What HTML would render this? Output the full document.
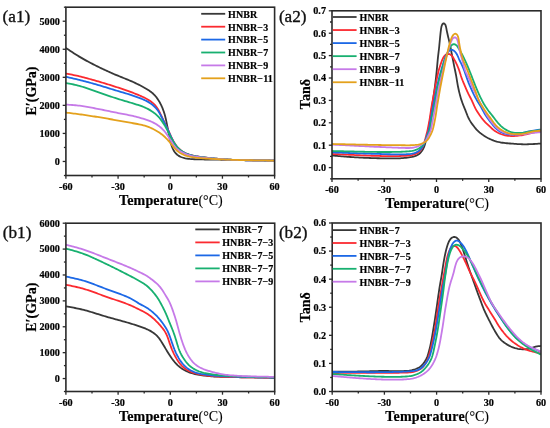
<!DOCTYPE html>
<html><head><meta charset="utf-8"><title>HNBR DMA curves</title>
<style>
html,body{margin:0;padding:0;background:#fff;}
body{width:550px;height:428px;overflow:hidden;}
svg{display:block;}
.tk{font-family:"Liberation Serif",serif;font-weight:bold;font-size:10.2px;fill:#000;stroke:#000;stroke-width:0.2px;}
.lg{font-family:"Liberation Serif",serif;font-weight:bold;font-size:10px;letter-spacing:0.12px;fill:#000;stroke:#000;stroke-width:0.2px;}
.ti{font-family:"Liberation Serif",serif;font-weight:bold;font-size:14px;fill:#000;stroke:#000;stroke-width:0.2px;}
.tr{font-weight:normal;stroke-width:0.1px;}
.pl{font-family:"Liberation Serif",serif;font-size:17.2px;fill:#111;stroke:#111;stroke-width:0.35px;}
</style></head>
<body>
<svg width="550" height="428" viewBox="0 0 550 428">
<defs>
<clipPath id="ca1"><rect x="65.9" y="7.2" width="208.70" height="168.30"/></clipPath>
<clipPath id="ca2"><rect x="332.0" y="10.8" width="209.00" height="168.00"/></clipPath>
<clipPath id="cb1"><rect x="65.9" y="223.2" width="208.80" height="168.30"/></clipPath>
<clipPath id="cb2"><rect x="332.2" y="223.0" width="208.80" height="168.50"/></clipPath>
</defs>
<rect width="550" height="428" fill="#fff"/>
<path d="M66.20,48.20 L67.46,49.03 L68.71,49.85 L69.97,50.68 L71.23,51.51 L72.49,52.33 L73.75,53.15 L75.01,53.97 L76.28,54.77 L77.56,55.57 L78.84,56.36 L80.13,57.13 L81.43,57.89 L82.73,58.64 L84.04,59.38 L85.36,60.12 L86.68,60.84 L88.00,61.56 L89.33,62.26 L90.66,62.96 L91.99,63.66 L93.33,64.34 L94.67,65.02 L96.02,65.70 L97.37,66.37 L98.72,67.04 L100.07,67.70 L101.42,68.35 L102.78,69.00 L104.14,69.65 L105.50,70.28 L106.87,70.91 L108.24,71.54 L109.61,72.15 L110.99,72.76 L112.36,73.36 L113.75,73.96 L115.13,74.55 L116.52,75.12 L117.91,75.70 L119.31,76.26 L120.70,76.83 L122.10,77.39 L123.49,77.96 L124.88,78.53 L126.27,79.10 L127.67,79.67 L129.05,80.25 L130.44,80.84 L131.82,81.44 L133.19,82.05 L134.56,82.68 L135.92,83.32 L137.28,83.97 L138.63,84.64 L139.97,85.32 L141.30,86.02 L142.63,86.73 L143.94,87.46 L145.25,88.20 L146.54,88.97 L147.82,89.75 L149.09,90.57 L150.32,91.42 L151.52,92.32 L152.67,93.27 L153.76,94.29 L154.80,95.37 L155.78,96.50 L156.71,97.67 L157.59,98.89 L158.42,100.14 L159.21,101.42 L159.95,102.72 L160.65,104.05 L161.31,105.40 L161.93,106.77 L162.51,108.15 L163.05,109.56 L163.56,110.97 L164.04,112.40 L164.48,113.83 L164.90,115.28 L165.28,116.73 L165.64,118.19 L165.98,119.66 L166.30,121.13 L166.61,122.60 L166.90,124.07 L167.18,125.55 L167.46,127.03 L167.74,128.51 L168.03,129.99 L168.31,131.46 L168.61,132.94 L168.90,134.41 L169.20,135.89 L169.51,137.36 L169.83,138.83 L170.16,140.30 L170.50,141.76 L170.87,143.22 L171.28,144.66 L171.74,146.09 L172.27,147.49 L172.87,148.86 L173.55,150.19 L174.32,151.46 L175.19,152.66 L176.16,153.77 L177.24,154.77 L178.42,155.64 L179.69,156.38 L181.03,157.00 L182.43,157.50 L183.86,157.92 L185.32,158.26 L186.79,158.54 L188.28,158.76 L189.77,158.94 L191.26,159.07 L192.76,159.18 L194.27,159.25 L195.77,159.31 L197.27,159.35 L198.78,159.38 L200.28,159.41 L201.79,159.43 L203.29,159.46 L204.79,159.49 L206.30,159.51 L207.80,159.54 L209.31,159.56 L210.81,159.58 L212.32,159.60 L213.82,159.63 L215.33,159.65 L216.83,159.67 L218.33,159.69 L219.84,159.72 L221.34,159.74 L222.85,159.76 L224.35,159.78 L225.86,159.81 L227.36,159.83 L228.87,159.85 L230.37,159.87 L231.87,159.90 L233.38,159.92 L234.88,159.95 L236.39,159.97 L237.89,160.00 L239.40,160.02 L240.90,160.05 L242.41,160.07 L243.91,160.10 L245.42,160.12 L246.92,160.15 L248.42,160.17 L249.93,160.20 L251.43,160.22 L252.94,160.25 L254.44,160.27 L255.95,160.30 L257.45,160.32 L258.96,160.35 L260.46,160.37 L261.96,160.40 L263.47,160.42 L264.97,160.45 L266.48,160.47 L267.98,160.50 L269.49,160.52 L270.99,160.55 L272.50,160.57 L274.00,160.60" fill="none" stroke="#383838" stroke-width="1.8" stroke-linejoin="round" stroke-linecap="round" clip-path="url(#ca1)"/>
<path d="M66.20,73.60 L67.68,73.88 L69.16,74.17 L70.63,74.45 L72.11,74.74 L73.59,75.03 L75.06,75.34 L76.53,75.66 L78.00,75.99 L79.47,76.33 L80.93,76.69 L82.39,77.05 L83.85,77.43 L85.30,77.81 L86.75,78.20 L88.21,78.60 L89.66,79.00 L91.11,79.40 L92.56,79.81 L94.01,80.22 L95.45,80.63 L96.90,81.05 L98.35,81.47 L99.79,81.89 L101.23,82.31 L102.68,82.74 L104.12,83.17 L105.56,83.61 L107.00,84.04 L108.44,84.49 L109.88,84.94 L111.31,85.39 L112.75,85.84 L114.18,86.31 L115.61,86.77 L117.04,87.24 L118.47,87.72 L119.90,88.19 L121.32,88.68 L122.75,89.16 L124.17,89.65 L125.59,90.15 L127.01,90.65 L128.43,91.15 L129.84,91.66 L131.26,92.18 L132.67,92.71 L134.07,93.24 L135.48,93.79 L136.88,94.35 L138.27,94.92 L139.66,95.50 L141.04,96.10 L142.41,96.71 L143.77,97.35 L145.12,98.02 L146.45,98.72 L147.76,99.45 L149.05,100.23 L150.30,101.05 L151.51,101.93 L152.67,102.88 L153.77,103.89 L154.81,104.96 L155.79,106.09 L156.70,107.28 L157.54,108.51 L158.33,109.79 L159.05,111.10 L159.74,112.44 L160.39,113.79 L161.03,115.15 L161.68,116.51 L162.32,117.87 L162.98,119.23 L163.63,120.58 L164.29,121.93 L164.96,123.29 L165.62,124.64 L166.28,125.99 L166.93,127.34 L167.58,128.70 L168.21,130.07 L168.82,131.45 L169.43,132.82 L170.04,134.20 L170.65,135.57 L171.28,136.94 L171.94,138.29 L172.62,139.63 L173.33,140.96 L174.07,142.26 L174.85,143.54 L175.69,144.79 L176.57,146.00 L177.52,147.16 L178.53,148.26 L179.60,149.30 L180.74,150.26 L181.94,151.15 L183.19,151.95 L184.50,152.67 L185.86,153.30 L187.24,153.86 L188.66,154.36 L190.09,154.81 L191.54,155.21 L193.00,155.57 L194.47,155.90 L195.94,156.20 L197.42,156.46 L198.91,156.70 L200.39,156.93 L201.88,157.13 L203.38,157.33 L204.87,157.51 L206.37,157.68 L207.86,157.85 L209.36,158.01 L210.86,158.16 L212.35,158.31 L213.85,158.45 L215.35,158.59 L216.85,158.72 L218.35,158.84 L219.85,158.97 L221.35,159.08 L222.85,159.20 L224.35,159.31 L225.86,159.41 L227.36,159.51 L228.86,159.60 L230.36,159.69 L231.87,159.78 L233.37,159.85 L234.87,159.93 L236.38,159.99 L237.88,160.05 L239.38,160.10 L240.89,160.14 L242.39,160.19 L243.90,160.22 L245.40,160.25 L246.91,160.28 L248.41,160.31 L249.92,160.33 L251.42,160.35 L252.93,160.37 L254.43,160.38 L255.94,160.40 L257.44,160.41 L258.95,160.43 L260.45,160.44 L261.96,160.45 L263.46,160.47 L264.97,160.48 L266.47,160.50 L267.98,160.51 L269.48,160.53 L270.99,160.55 L272.49,160.58 L274.00,160.60" fill="none" stroke="#fb2a30" stroke-width="1.8" stroke-linejoin="round" stroke-linecap="round" clip-path="url(#ca1)"/>
<path d="M66.20,76.90 L67.67,77.22 L69.14,77.55 L70.61,77.87 L72.08,78.19 L73.54,78.52 L75.01,78.86 L76.48,79.20 L77.94,79.55 L79.40,79.91 L80.86,80.28 L82.32,80.66 L83.77,81.03 L85.23,81.42 L86.68,81.81 L88.13,82.20 L89.58,82.60 L91.03,83.00 L92.48,83.40 L93.93,83.81 L95.38,84.22 L96.82,84.63 L98.27,85.05 L99.71,85.48 L101.15,85.91 L102.59,86.34 L104.03,86.78 L105.47,87.22 L106.91,87.66 L108.35,88.11 L109.78,88.55 L111.22,88.99 L112.66,89.43 L114.10,89.87 L115.54,90.30 L116.98,90.74 L118.42,91.16 L119.87,91.59 L121.31,92.02 L122.75,92.44 L124.19,92.87 L125.64,93.30 L127.08,93.74 L128.51,94.18 L129.95,94.63 L131.38,95.09 L132.81,95.57 L134.23,96.06 L135.65,96.56 L137.06,97.08 L138.47,97.61 L139.87,98.15 L141.27,98.70 L142.66,99.27 L144.04,99.87 L145.41,100.49 L146.75,101.15 L148.07,101.87 L149.35,102.64 L150.60,103.47 L151.81,104.35 L152.98,105.29 L154.10,106.28 L155.16,107.33 L156.18,108.44 L157.12,109.59 L158.01,110.80 L158.84,112.05 L159.61,113.33 L160.34,114.64 L161.05,115.97 L161.74,117.30 L162.42,118.65 L163.09,119.99 L163.76,121.34 L164.42,122.69 L165.09,124.04 L165.76,125.39 L166.42,126.74 L167.08,128.09 L167.73,129.45 L168.36,130.81 L168.97,132.18 L169.58,133.56 L170.19,134.94 L170.80,136.31 L171.44,137.67 L172.10,139.02 L172.79,140.36 L173.51,141.67 L174.27,142.97 L175.07,144.24 L175.93,145.47 L176.84,146.65 L177.81,147.78 L178.85,148.86 L179.95,149.86 L181.12,150.79 L182.35,151.63 L183.63,152.39 L184.96,153.06 L186.33,153.65 L187.74,154.17 L189.16,154.64 L190.61,155.06 L192.06,155.45 L193.52,155.79 L194.99,156.11 L196.47,156.39 L197.95,156.65 L199.43,156.88 L200.92,157.10 L202.41,157.30 L203.90,157.48 L205.40,157.66 L206.89,157.82 L208.39,157.98 L209.89,158.13 L211.38,158.28 L212.88,158.42 L214.38,158.55 L215.88,158.68 L217.38,158.80 L218.88,158.92 L220.38,159.04 L221.88,159.15 L223.38,159.26 L224.88,159.36 L226.38,159.46 L227.88,159.55 L229.38,159.64 L230.89,159.73 L232.39,159.81 L233.89,159.88 L235.39,159.94 L236.90,160.00 L238.40,160.06 L239.90,160.11 L241.41,160.15 L242.91,160.19 L244.42,160.22 L245.92,160.25 L247.42,160.28 L248.93,160.31 L250.43,160.33 L251.94,160.35 L253.44,160.37 L254.95,160.38 L256.45,160.40 L257.95,160.41 L259.46,160.43 L260.96,160.44 L262.47,160.45 L263.97,160.47 L265.48,160.48 L266.98,160.50 L268.48,160.52 L269.99,160.54 L271.49,160.56 L273.00,160.58 L274.00,160.60" fill="none" stroke="#1c68e6" stroke-width="1.8" stroke-linejoin="round" stroke-linecap="round" clip-path="url(#ca1)"/>
<path d="M66.20,83.10 L67.68,83.37 L69.16,83.65 L70.64,83.92 L72.11,84.20 L73.59,84.50 L75.06,84.81 L76.52,85.14 L77.98,85.51 L79.43,85.89 L80.88,86.31 L82.32,86.74 L83.75,87.19 L85.18,87.65 L86.61,88.13 L88.04,88.61 L89.46,89.10 L90.88,89.59 L92.30,90.08 L93.72,90.57 L95.14,91.07 L96.56,91.56 L97.98,92.05 L99.40,92.55 L100.82,93.04 L102.24,93.54 L103.66,94.04 L105.08,94.55 L106.50,95.05 L107.91,95.55 L109.34,96.04 L110.76,96.53 L112.18,97.01 L113.61,97.49 L115.04,97.95 L116.47,98.41 L117.91,98.86 L119.34,99.30 L120.78,99.74 L122.22,100.17 L123.66,100.60 L125.11,101.03 L126.55,101.46 L127.99,101.89 L129.43,102.32 L130.87,102.75 L132.31,103.19 L133.75,103.62 L135.19,104.07 L136.62,104.52 L138.05,104.97 L139.48,105.44 L140.90,105.94 L142.31,106.45 L143.71,107.00 L145.09,107.59 L146.45,108.21 L147.79,108.89 L149.11,109.62 L150.39,110.39 L151.66,111.19 L152.90,112.04 L154.12,112.91 L155.30,113.83 L156.45,114.80 L157.54,115.82 L158.57,116.90 L159.55,118.03 L160.48,119.20 L161.38,120.41 L162.25,121.63 L163.09,122.88 L163.91,124.14 L164.69,125.42 L165.44,126.72 L166.16,128.04 L166.85,129.38 L167.52,130.72 L168.19,132.07 L168.86,133.42 L169.53,134.76 L170.21,136.10 L170.91,137.43 L171.62,138.76 L172.35,140.07 L173.11,141.37 L173.90,142.64 L174.73,143.89 L175.60,145.11 L176.52,146.29 L177.50,147.43 L178.53,148.51 L179.62,149.52 L180.78,150.47 L181.99,151.34 L183.26,152.13 L184.57,152.85 L185.92,153.49 L187.30,154.06 L188.71,154.57 L190.14,155.03 L191.58,155.43 L193.04,155.79 L194.51,156.10 L195.98,156.38 L197.47,156.62 L198.95,156.84 L200.44,157.04 L201.94,157.22 L203.43,157.40 L204.93,157.56 L206.42,157.73 L207.92,157.88 L209.41,158.03 L210.91,158.18 L212.41,158.32 L213.90,158.46 L215.40,158.59 L216.90,158.72 L218.40,158.85 L219.90,158.97 L221.40,159.09 L222.90,159.20 L224.40,159.31 L225.90,159.42 L227.40,159.51 L228.90,159.61 L230.40,159.70 L231.90,159.78 L233.40,159.85 L234.91,159.92 L236.41,159.99 L237.91,160.04 L239.41,160.09 L240.92,160.14 L242.42,160.18 L243.92,160.21 L245.43,160.25 L246.93,160.27 L248.44,160.30 L249.94,160.32 L251.44,160.34 L252.95,160.36 L254.45,160.38 L255.95,160.39 L257.46,160.41 L258.96,160.42 L260.47,160.43 L261.97,160.45 L263.47,160.46 L264.98,160.48 L266.48,160.50 L267.98,160.51 L269.49,160.53 L270.99,160.55 L272.50,160.58 L274.00,160.60" fill="none" stroke="#18b070" stroke-width="1.8" stroke-linejoin="round" stroke-linecap="round" clip-path="url(#ca1)"/>
<path d="M66.20,104.60 L67.70,104.70 L69.20,104.79 L70.71,104.89 L72.21,104.99 L73.71,105.10 L75.21,105.23 L76.71,105.38 L78.20,105.55 L79.69,105.73 L81.19,105.94 L82.67,106.16 L84.16,106.40 L85.65,106.64 L87.13,106.90 L88.61,107.16 L90.09,107.43 L91.57,107.70 L93.05,107.98 L94.53,108.25 L96.01,108.53 L97.49,108.82 L98.97,109.11 L100.44,109.40 L101.92,109.70 L103.39,110.00 L104.87,110.30 L106.34,110.61 L107.82,110.92 L109.29,111.22 L110.76,111.53 L112.24,111.83 L113.71,112.13 L115.19,112.43 L116.67,112.72 L118.14,113.01 L119.62,113.29 L121.10,113.57 L122.58,113.86 L124.06,114.14 L125.53,114.43 L127.01,114.72 L128.49,115.02 L129.96,115.33 L131.43,115.65 L132.90,115.98 L134.36,116.33 L135.82,116.69 L137.28,117.07 L138.73,117.46 L140.18,117.86 L141.63,118.27 L143.07,118.70 L144.51,119.15 L145.94,119.62 L147.36,120.11 L148.77,120.64 L150.17,121.19 L151.55,121.79 L152.91,122.42 L154.25,123.10 L155.56,123.83 L156.84,124.61 L158.09,125.44 L159.30,126.33 L160.46,127.27 L161.58,128.27 L162.66,129.31 L163.70,130.40 L164.69,131.52 L165.63,132.69 L166.53,133.89 L167.38,135.13 L168.20,136.39 L168.99,137.67 L169.76,138.96 L170.53,140.26 L171.30,141.54 L172.10,142.82 L172.93,144.07 L173.80,145.29 L174.73,146.46 L175.72,147.57 L176.79,148.61 L177.94,149.56 L179.15,150.44 L180.41,151.24 L181.71,151.98 L183.04,152.67 L184.40,153.32 L185.77,153.92 L187.17,154.48 L188.58,154.98 L190.01,155.43 L191.46,155.83 L192.92,156.17 L194.40,156.47 L195.88,156.72 L197.37,156.94 L198.86,157.14 L200.35,157.32 L201.85,157.50 L203.34,157.66 L204.84,157.82 L206.34,157.97 L207.84,158.11 L209.33,158.25 L210.83,158.38 L212.33,158.50 L213.83,158.62 L215.34,158.74 L216.84,158.86 L218.34,158.96 L219.84,159.07 L221.34,159.17 L222.84,159.27 L224.35,159.37 L225.85,159.46 L227.35,159.55 L228.85,159.63 L230.36,159.71 L231.86,159.78 L233.36,159.85 L234.87,159.91 L236.37,159.97 L237.88,160.02 L239.38,160.07 L240.89,160.11 L242.39,160.15 L243.90,160.19 L245.40,160.22 L246.91,160.25 L248.41,160.27 L249.92,160.30 L251.42,160.32 L252.93,160.34 L254.43,160.36 L255.94,160.37 L257.44,160.39 L258.95,160.41 L260.45,160.42 L261.96,160.44 L263.46,160.45 L264.97,160.47 L266.47,160.49 L267.98,160.51 L269.48,160.53 L270.99,160.55 L272.49,160.58 L274.00,160.60" fill="none" stroke="#c67ae8" stroke-width="1.8" stroke-linejoin="round" stroke-linecap="round" clip-path="url(#ca1)"/>
<path d="M66.20,112.60 L67.69,112.78 L69.19,112.96 L70.68,113.15 L72.17,113.33 L73.66,113.52 L75.16,113.71 L76.65,113.90 L78.14,114.10 L79.63,114.30 L81.12,114.51 L82.61,114.72 L84.09,114.94 L85.58,115.15 L87.07,115.37 L88.56,115.59 L90.05,115.82 L91.53,116.04 L93.02,116.27 L94.50,116.51 L95.99,116.74 L97.47,116.98 L98.96,117.22 L100.44,117.47 L101.93,117.72 L103.41,117.97 L104.89,118.22 L106.37,118.48 L107.86,118.73 L109.34,118.99 L110.82,119.25 L112.30,119.51 L113.78,119.77 L115.26,120.04 L116.74,120.30 L118.22,120.57 L119.70,120.84 L121.18,121.10 L122.66,121.37 L124.14,121.64 L125.62,121.91 L127.10,122.18 L128.58,122.45 L130.06,122.72 L131.54,122.98 L133.02,123.24 L134.50,123.50 L135.99,123.75 L137.47,124.01 L138.94,124.28 L140.42,124.58 L141.88,124.91 L143.34,125.28 L144.78,125.69 L146.21,126.14 L147.63,126.64 L149.03,127.17 L150.42,127.75 L151.79,128.36 L153.14,129.01 L154.48,129.70 L155.79,130.43 L157.09,131.18 L158.37,131.97 L159.62,132.80 L160.85,133.66 L162.05,134.56 L163.22,135.51 L164.34,136.50 L165.44,137.52 L166.49,138.59 L167.52,139.68 L168.52,140.81 L169.49,141.95 L170.44,143.12 L171.37,144.29 L172.30,145.48 L173.24,146.65 L174.20,147.80 L175.20,148.91 L176.26,149.97 L177.37,150.96 L178.55,151.88 L179.78,152.72 L181.06,153.48 L182.39,154.17 L183.75,154.79 L185.14,155.33 L186.56,155.81 L188.00,156.23 L189.46,156.59 L190.93,156.90 L192.40,157.17 L193.89,157.40 L195.38,157.60 L196.87,157.78 L198.37,157.93 L199.86,158.07 L201.36,158.19 L202.86,158.30 L204.36,158.40 L205.86,158.50 L207.36,158.59 L208.87,158.68 L210.37,158.77 L211.87,158.85 L213.37,158.94 L214.87,159.02 L216.37,159.10 L217.88,159.17 L219.38,159.25 L220.88,159.32 L222.38,159.39 L223.88,159.46 L225.39,159.53 L226.89,159.59 L228.39,159.66 L229.89,159.71 L231.40,159.77 L232.90,159.82 L234.40,159.87 L235.91,159.92 L237.41,159.96 L238.91,160.00 L240.42,160.04 L241.92,160.08 L243.42,160.11 L244.93,160.14 L246.43,160.17 L247.93,160.20 L249.44,160.22 L250.94,160.25 L252.45,160.27 L253.95,160.29 L255.45,160.32 L256.96,160.34 L258.46,160.36 L259.96,160.38 L261.47,160.40 L262.97,160.42 L264.48,160.45 L265.98,160.47 L267.48,160.49 L268.99,160.52 L270.49,160.54 L272.00,160.57 L273.50,160.59 L274.00,160.60" fill="none" stroke="#e4a11c" stroke-width="1.8" stroke-linejoin="round" stroke-linecap="round" clip-path="url(#ca1)"/>
<path d="M332.50,155.50 L334.00,155.63 L335.49,155.77 L336.99,155.91 L338.48,156.05 L339.98,156.18 L341.48,156.32 L342.97,156.45 L344.47,156.58 L345.97,156.70 L347.46,156.82 L348.96,156.92 L350.46,157.02 L351.96,157.12 L353.46,157.21 L354.96,157.29 L356.46,157.38 L357.96,157.45 L359.46,157.53 L360.96,157.60 L362.46,157.67 L363.96,157.74 L365.46,157.81 L366.96,157.87 L368.46,157.93 L369.96,157.99 L371.46,158.05 L372.97,158.10 L374.47,158.15 L375.97,158.19 L377.47,158.23 L378.97,158.27 L380.47,158.31 L381.97,158.34 L383.48,158.37 L384.98,158.39 L386.48,158.42 L387.98,158.44 L389.48,158.45 L390.99,158.46 L392.49,158.46 L393.99,158.45 L395.49,158.43 L396.99,158.39 L398.49,158.35 L400.00,158.28 L401.49,158.19 L402.99,158.09 L404.49,157.96 L405.98,157.80 L407.47,157.63 L408.96,157.43 L410.45,157.21 L411.93,156.96 L413.39,156.64 L414.83,156.23 L416.22,155.71 L417.55,155.04 L418.79,154.24 L419.93,153.28 L420.95,152.20 L421.86,151.02 L422.66,149.76 L423.37,148.45 L423.99,147.09 L424.53,145.69 L424.99,144.26 L425.39,142.82 L425.74,141.36 L426.08,139.89 L426.41,138.43 L426.75,136.97 L427.08,135.50 L427.42,134.04 L427.75,132.57 L428.06,131.10 L428.36,129.63 L428.65,128.16 L428.92,126.68 L429.18,125.20 L429.43,123.72 L429.67,122.24 L429.91,120.75 L430.14,119.27 L430.38,117.79 L430.60,116.30 L430.82,114.81 L431.04,113.33 L431.25,111.84 L431.46,110.35 L431.68,108.87 L431.89,107.38 L432.11,105.90 L432.34,104.41 L432.56,102.92 L432.78,101.44 L433.01,99.95 L433.23,98.47 L433.46,96.98 L433.68,95.50 L433.90,94.01 L434.12,92.53 L434.33,91.04 L434.53,89.55 L434.73,88.06 L434.93,86.57 L435.12,85.08 L435.30,83.59 L435.48,82.10 L435.66,80.61 L435.83,79.12 L436.00,77.62 L436.16,76.13 L436.32,74.64 L436.48,73.14 L436.63,71.65 L436.78,70.15 L436.92,68.66 L437.06,67.16 L437.20,65.67 L437.33,64.17 L437.46,62.67 L437.60,61.18 L437.74,59.68 L437.89,58.19 L438.05,56.70 L438.22,55.20 L438.40,53.71 L438.58,52.22 L438.76,50.73 L438.93,49.24 L439.09,47.74 L439.24,46.25 L439.38,44.75 L439.52,43.26 L439.67,41.76 L439.81,40.27 L439.95,38.77 L440.10,37.28 L440.25,35.78 L440.40,34.29 L440.56,32.79 L440.74,31.30 L440.93,29.81 L441.14,28.33 L441.42,26.86 L441.83,25.47 L442.43,24.27 L443.23,23.51 L444.12,23.46 L444.94,24.13 L445.57,25.29 L445.99,26.68 L446.30,28.13 L446.57,29.61 L446.86,31.08 L447.17,32.55 L447.50,34.02 L447.83,35.48 L448.17,36.94 L448.52,38.40 L448.87,39.87 L449.22,41.33 L449.57,42.79 L449.91,44.25 L450.22,45.72 L450.52,47.19 L450.80,48.67 L451.08,50.14 L451.35,51.62 L451.63,53.10 L451.92,54.57 L452.21,56.04 L452.50,57.52 L452.79,58.99 L453.07,60.47 L453.35,61.94 L453.63,63.42 L453.91,64.89 L454.21,66.37 L454.52,67.83 L454.84,69.30 L455.15,70.77 L455.45,72.24 L455.75,73.72 L456.03,75.19 L456.30,76.67 L456.56,78.15 L456.80,79.63 L457.04,81.11 L457.29,82.60 L457.54,84.08 L457.81,85.55 L458.10,87.03 L458.41,88.50 L458.73,89.97 L459.06,91.43 L459.41,92.89 L459.78,94.35 L460.16,95.80 L460.57,97.24 L461.00,98.68 L461.46,100.11 L461.94,101.54 L462.44,102.95 L462.97,104.36 L463.52,105.75 L464.09,107.14 L464.67,108.53 L465.24,109.92 L465.79,111.31 L466.33,112.72 L466.87,114.12 L467.42,115.52 L468.01,116.89 L468.65,118.25 L469.35,119.58 L470.10,120.88 L470.90,122.15 L471.74,123.39 L472.61,124.62 L473.50,125.82 L474.42,127.01 L475.35,128.19 L476.32,129.33 L477.35,130.42 L478.43,131.45 L479.57,132.42 L480.75,133.35 L481.95,134.26 L483.17,135.14 L484.40,136.00 L485.66,136.81 L486.95,137.57 L488.28,138.26 L489.64,138.90 L491.02,139.49 L492.41,140.05 L493.81,140.58 L495.23,141.07 L496.66,141.52 L498.11,141.91 L499.57,142.24 L501.05,142.52 L502.53,142.74 L504.02,142.93 L505.52,143.10 L507.01,143.25 L508.51,143.38 L510.00,143.50 L511.50,143.60 L513.00,143.70 L514.50,143.81 L516.00,143.92 L517.49,144.03 L518.99,144.12 L520.49,144.20 L521.99,144.26 L523.50,144.29 L525.00,144.30 L526.50,144.29 L528.00,144.26 L529.50,144.21 L531.00,144.15 L532.50,144.07 L534.00,143.99 L535.50,143.90 L537.00,143.81 L538.50,143.72 L540.00,143.63 L540.50,143.60" fill="none" stroke="#383838" stroke-width="1.8" stroke-linejoin="round" stroke-linecap="round" clip-path="url(#ca2)"/>
<path d="M332.50,154.00 L334.00,154.07 L335.50,154.13 L337.00,154.20 L338.51,154.26 L340.01,154.33 L341.51,154.40 L343.01,154.47 L344.51,154.54 L346.01,154.61 L347.51,154.68 L349.02,154.75 L350.52,154.82 L352.02,154.89 L353.52,154.97 L355.02,155.04 L356.52,155.10 L358.02,155.17 L359.52,155.24 L361.03,155.31 L362.53,155.38 L364.03,155.44 L365.53,155.51 L367.03,155.57 L368.53,155.63 L370.04,155.69 L371.54,155.74 L373.04,155.80 L374.54,155.85 L376.04,155.89 L377.55,155.93 L379.05,155.97 L380.55,156.01 L382.05,156.04 L383.56,156.06 L385.06,156.08 L386.56,156.10 L388.07,156.11 L389.57,156.12 L391.07,156.12 L392.57,156.12 L394.08,156.11 L395.58,156.09 L397.08,156.06 L398.59,156.03 L400.09,155.99 L401.59,155.94 L403.09,155.89 L404.59,155.82 L406.09,155.73 L407.59,155.62 L409.09,155.47 L410.58,155.29 L412.06,155.05 L413.51,154.72 L414.93,154.26 L416.29,153.66 L417.57,152.90 L418.77,152.02 L419.86,151.02 L420.85,149.90 L421.71,148.69 L422.45,147.40 L423.07,146.04 L423.61,144.64 L424.09,143.22 L424.53,141.78 L424.94,140.34 L425.32,138.88 L425.70,137.43 L426.08,135.97 L426.46,134.52 L426.83,133.06 L427.19,131.60 L427.53,130.14 L427.85,128.67 L428.15,127.20 L428.44,125.73 L428.73,124.25 L429.00,122.77 L429.27,121.29 L429.52,119.81 L429.77,118.33 L430.00,116.84 L430.23,115.36 L430.45,113.87 L430.67,112.39 L430.89,110.90 L431.11,109.41 L431.34,107.93 L431.58,106.44 L431.83,104.96 L432.10,103.48 L432.39,102.01 L432.68,100.53 L432.96,99.06 L433.24,97.58 L433.50,96.10 L433.76,94.62 L434.03,93.14 L434.30,91.66 L434.57,90.19 L434.85,88.71 L435.14,87.23 L435.43,85.76 L435.72,84.28 L436.02,82.81 L436.32,81.34 L436.63,79.87 L436.93,78.40 L437.24,76.92 L437.55,75.45 L437.87,73.99 L438.20,72.52 L438.56,71.06 L438.95,69.61 L439.39,68.17 L439.84,66.74 L440.31,65.31 L440.78,63.89 L441.25,62.46 L441.76,61.05 L442.33,59.66 L442.97,58.31 L443.71,57.01 L444.56,55.81 L445.58,54.80 L446.77,54.11 L448.09,53.85 L449.41,54.06 L450.63,54.71 L451.69,55.67 L452.61,56.83 L453.42,58.08 L454.18,59.37 L454.90,60.69 L455.59,62.03 L456.26,63.37 L456.89,64.73 L457.51,66.11 L458.09,67.49 L458.64,68.89 L459.16,70.30 L459.63,71.72 L460.09,73.16 L460.53,74.59 L460.97,76.03 L461.45,77.45 L461.96,78.86 L462.50,80.27 L463.07,81.66 L463.65,83.04 L464.24,84.43 L464.82,85.81 L465.41,87.19 L466.00,88.58 L466.59,89.96 L467.20,91.33 L467.84,92.69 L468.50,94.04 L469.18,95.38 L469.88,96.71 L470.58,98.04 L471.26,99.38 L471.91,100.73 L472.53,102.10 L473.14,103.48 L473.74,104.85 L474.35,106.23 L475.00,107.58 L475.68,108.92 L476.42,110.22 L477.21,111.50 L478.02,112.76 L478.86,114.01 L479.70,115.26 L480.57,116.48 L481.46,117.69 L482.38,118.88 L483.33,120.05 L484.31,121.18 L485.34,122.27 L486.41,123.33 L487.50,124.36 L488.59,125.39 L489.68,126.43 L490.77,127.47 L491.86,128.49 L492.99,129.49 L494.16,130.42 L495.38,131.29 L496.65,132.08 L497.97,132.80 L499.32,133.43 L500.71,133.99 L502.13,134.49 L503.57,134.91 L505.02,135.27 L506.50,135.56 L507.98,135.78 L509.47,135.94 L510.97,136.03 L512.47,136.05 L513.97,136.02 L515.47,135.93 L516.97,135.81 L518.46,135.66 L519.95,135.48 L521.44,135.26 L522.92,135.01 L524.39,134.72 L525.86,134.39 L527.32,134.03 L528.78,133.66 L530.23,133.30 L531.70,132.95 L533.16,132.61 L534.63,132.28 L536.09,131.96 L537.56,131.64 L539.03,131.32 L540.50,131.00" fill="none" stroke="#fb2a30" stroke-width="1.8" stroke-linejoin="round" stroke-linecap="round" clip-path="url(#ca2)"/>
<path d="M332.50,152.40 L334.00,152.45 L335.51,152.50 L337.01,152.55 L338.51,152.61 L340.02,152.66 L341.52,152.71 L343.02,152.76 L344.53,152.82 L346.03,152.87 L347.54,152.92 L349.04,152.98 L350.54,153.03 L352.05,153.08 L353.55,153.14 L355.05,153.19 L356.56,153.24 L358.06,153.29 L359.56,153.35 L361.07,153.40 L362.57,153.45 L364.07,153.50 L365.58,153.55 L367.08,153.60 L368.59,153.65 L370.09,153.70 L371.59,153.75 L373.10,153.80 L374.60,153.84 L376.10,153.89 L377.61,153.93 L379.11,153.97 L380.62,154.02 L382.12,154.06 L383.62,154.10 L385.13,154.14 L386.63,154.19 L388.13,154.23 L389.64,154.27 L391.14,154.30 L392.65,154.34 L394.15,154.36 L395.66,154.38 L397.16,154.40 L398.66,154.40 L400.17,154.39 L401.67,154.38 L403.18,154.35 L404.68,154.31 L406.18,154.26 L407.68,154.17 L409.18,154.04 L410.67,153.87 L412.16,153.62 L413.62,153.30 L415.05,152.87 L416.44,152.32 L417.75,151.62 L418.97,150.78 L420.06,149.78 L421.05,148.66 L421.95,147.47 L422.77,146.21 L423.53,144.92 L424.21,143.58 L424.81,142.21 L425.31,140.80 L425.76,139.36 L426.18,137.92 L426.62,136.48 L427.11,135.06 L427.63,133.66 L428.15,132.25 L428.61,130.82 L429.00,129.37 L429.32,127.90 L429.61,126.42 L429.86,124.94 L430.11,123.46 L430.35,121.97 L430.59,120.49 L430.84,119.00 L431.09,117.52 L431.36,116.04 L431.62,114.56 L431.89,113.08 L432.16,111.60 L432.43,110.12 L432.71,108.64 L432.99,107.16 L433.28,105.69 L433.58,104.21 L433.90,102.74 L434.21,101.27 L434.52,99.80 L434.80,98.32 L435.07,96.84 L435.33,95.36 L435.59,93.88 L435.86,92.40 L436.13,90.92 L436.42,89.44 L436.72,87.97 L437.03,86.49 L437.34,85.02 L437.67,83.55 L438.01,82.09 L438.36,80.63 L438.73,79.17 L439.11,77.71 L439.50,76.26 L439.91,74.81 L440.32,73.37 L440.74,71.92 L441.17,70.48 L441.60,69.04 L442.04,67.60 L442.47,66.16 L442.91,64.72 L443.33,63.27 L443.76,61.83 L444.21,60.40 L444.69,58.97 L445.22,57.57 L445.82,56.19 L446.49,54.85 L447.22,53.54 L448.00,52.27 L448.87,51.11 L449.90,50.22 L451.08,49.78 L452.35,49.89 L453.58,50.48 L454.70,51.39 L455.69,52.49 L456.55,53.71 L457.28,55.01 L457.91,56.37 L458.48,57.76 L459.05,59.15 L459.67,60.52 L460.33,61.87 L461.01,63.21 L461.68,64.55 L462.31,65.92 L462.92,67.29 L463.49,68.68 L464.04,70.08 L464.57,71.49 L465.07,72.91 L465.57,74.33 L466.06,75.75 L466.55,77.17 L467.04,78.60 L467.54,80.01 L468.06,81.43 L468.60,82.83 L469.16,84.22 L469.75,85.61 L470.35,86.99 L470.95,88.37 L471.57,89.74 L472.18,91.11 L472.81,92.48 L473.46,93.84 L474.12,95.19 L474.81,96.52 L475.52,97.85 L476.25,99.16 L477.01,100.46 L477.78,101.75 L478.58,103.03 L479.37,104.31 L480.16,105.59 L480.93,106.88 L481.67,108.19 L482.39,109.51 L483.10,110.84 L483.81,112.16 L484.54,113.48 L485.30,114.78 L486.10,116.05 L486.94,117.30 L487.81,118.52 L488.72,119.72 L489.64,120.91 L490.56,122.10 L491.48,123.29 L492.41,124.47 L493.36,125.64 L494.34,126.77 L495.37,127.87 L496.45,128.91 L497.58,129.89 L498.78,130.78 L500.05,131.58 L501.37,132.28 L502.75,132.87 L504.16,133.36 L505.61,133.75 L507.08,134.06 L508.56,134.29 L510.05,134.46 L511.55,134.56 L513.05,134.61 L514.56,134.61 L516.06,134.56 L517.55,134.45 L519.02,134.22 L520.47,133.86 L521.88,133.38 L523.29,132.89 L524.72,132.44 L526.17,132.07 L527.64,131.74 L529.12,131.44 L530.59,131.16 L532.07,130.89 L533.56,130.64 L535.04,130.41 L536.53,130.18 L538.02,129.96 L539.51,129.75 L540.50,129.60" fill="none" stroke="#1c68e6" stroke-width="1.8" stroke-linejoin="round" stroke-linecap="round" clip-path="url(#ca2)"/>
<path d="M332.50,151.00 L334.00,151.03 L335.51,151.07 L337.01,151.10 L338.52,151.14 L340.02,151.17 L341.52,151.21 L343.03,151.24 L344.53,151.28 L346.03,151.32 L347.54,151.35 L349.04,151.39 L350.54,151.43 L352.05,151.47 L353.55,151.50 L355.06,151.54 L356.56,151.58 L358.06,151.61 L359.57,151.65 L361.07,151.68 L362.57,151.72 L364.08,151.75 L365.58,151.78 L367.09,151.81 L368.59,151.84 L370.09,151.87 L371.60,151.90 L373.10,151.92 L374.61,151.94 L376.11,151.96 L377.61,151.98 L379.12,151.99 L380.62,152.00 L382.13,152.01 L383.63,152.01 L385.13,152.01 L386.64,152.01 L388.14,152.00 L389.65,152.00 L391.15,151.98 L392.65,151.97 L394.16,151.94 L395.66,151.91 L397.17,151.88 L398.67,151.84 L400.17,151.79 L401.68,151.73 L403.18,151.67 L404.68,151.60 L406.18,151.51 L407.68,151.40 L409.18,151.26 L410.67,151.08 L412.16,150.86 L413.63,150.56 L415.07,150.16 L416.47,149.66 L417.83,149.03 L419.11,148.27 L420.32,147.40 L421.45,146.42 L422.49,145.34 L423.42,144.18 L424.27,142.94 L425.01,141.65 L425.65,140.29 L426.23,138.91 L426.77,137.51 L427.32,136.11 L427.89,134.72 L428.48,133.34 L429.02,131.94 L429.48,130.51 L429.86,129.06 L430.17,127.59 L430.43,126.11 L430.66,124.63 L430.88,123.14 L431.11,121.65 L431.34,120.17 L431.60,118.68 L431.87,117.21 L432.17,115.73 L432.48,114.26 L432.79,112.79 L433.11,111.32 L433.44,109.85 L433.76,108.38 L434.08,106.91 L434.40,105.44 L434.71,103.97 L435.01,102.50 L435.29,101.02 L435.55,99.54 L435.79,98.05 L436.01,96.56 L436.22,95.08 L436.44,93.59 L436.67,92.10 L436.91,90.62 L437.18,89.14 L437.47,87.66 L437.78,86.19 L438.10,84.72 L438.44,83.25 L438.78,81.79 L439.13,80.33 L439.48,78.86 L439.85,77.41 L440.22,75.95 L440.60,74.49 L440.99,73.04 L441.37,71.59 L441.76,70.13 L442.15,68.68 L442.54,67.23 L442.93,65.77 L443.32,64.32 L443.74,62.88 L444.17,61.44 L444.65,60.01 L445.17,58.60 L445.72,57.21 L446.29,55.81 L446.86,54.42 L447.43,53.03 L448.00,51.64 L448.59,50.25 L449.21,48.89 L449.88,47.55 L450.64,46.28 L451.55,45.18 L452.65,44.40 L453.89,44.12 L455.14,44.39 L456.27,45.14 L457.23,46.20 L458.06,47.43 L458.82,48.72 L459.58,50.02 L460.34,51.31 L461.10,52.61 L461.83,53.93 L462.53,55.25 L463.21,56.60 L463.87,57.95 L464.53,59.30 L465.18,60.66 L465.81,62.02 L466.43,63.39 L467.03,64.77 L467.62,66.15 L468.20,67.54 L468.77,68.94 L469.33,70.33 L469.89,71.73 L470.45,73.12 L471.00,74.52 L471.54,75.93 L472.09,77.33 L472.63,78.73 L473.17,80.14 L473.71,81.54 L474.26,82.94 L474.81,84.34 L475.37,85.73 L475.94,87.13 L476.51,88.52 L477.10,89.90 L477.68,91.29 L478.28,92.67 L478.90,94.04 L479.52,95.41 L480.16,96.77 L480.82,98.12 L481.50,99.47 L482.19,100.80 L482.90,102.12 L483.63,103.44 L484.39,104.74 L485.17,106.02 L485.99,107.29 L486.83,108.53 L487.70,109.76 L488.59,110.96 L489.52,112.15 L490.46,113.32 L491.40,114.50 L492.33,115.68 L493.24,116.87 L494.14,118.08 L495.05,119.28 L495.98,120.46 L496.92,121.63 L497.89,122.78 L498.89,123.91 L499.92,125.00 L501.00,126.05 L502.11,127.05 L503.28,127.98 L504.50,128.86 L505.77,129.66 L507.08,130.38 L508.43,131.04 L509.82,131.60 L511.24,132.08 L512.69,132.45 L514.16,132.72 L515.65,132.89 L517.15,132.99 L518.65,133.02 L520.15,132.98 L521.65,132.89 L523.15,132.74 L524.63,132.53 L526.11,132.26 L527.59,131.96 L529.06,131.66 L530.54,131.39 L532.02,131.15 L533.51,130.96 L535.01,130.80 L536.50,130.66 L538.00,130.52 L539.50,130.39 L540.50,130.30" fill="none" stroke="#18b070" stroke-width="1.8" stroke-linejoin="round" stroke-linecap="round" clip-path="url(#ca2)"/>
<path d="M332.50,144.60 L334.00,144.68 L335.50,144.75 L337.00,144.83 L338.50,144.91 L340.00,144.98 L341.50,145.06 L343.00,145.14 L344.50,145.21 L346.00,145.29 L347.50,145.37 L349.00,145.44 L350.50,145.52 L352.01,145.59 L353.51,145.67 L355.01,145.75 L356.51,145.82 L358.01,145.90 L359.51,145.98 L361.01,146.05 L362.51,146.13 L364.01,146.20 L365.51,146.28 L367.01,146.36 L368.51,146.44 L370.01,146.51 L371.51,146.59 L373.01,146.67 L374.51,146.74 L376.01,146.81 L377.51,146.88 L379.01,146.95 L380.51,147.02 L382.02,147.09 L383.52,147.16 L385.02,147.22 L386.52,147.29 L388.02,147.35 L389.52,147.41 L391.02,147.47 L392.52,147.53 L394.02,147.59 L395.53,147.65 L397.03,147.70 L398.53,147.75 L400.03,147.80 L401.53,147.86 L403.03,147.91 L404.53,147.96 L406.04,148.00 L407.54,148.02 L409.04,147.99 L410.53,147.90 L412.03,147.76 L413.51,147.53 L414.98,147.23 L416.42,146.84 L417.84,146.37 L419.22,145.79 L420.55,145.12 L421.83,144.34 L423.05,143.47 L424.17,142.50 L425.16,141.40 L426.00,140.18 L426.71,138.88 L427.35,137.52 L427.99,136.17 L428.65,134.82 L429.32,133.48 L429.96,132.12 L430.51,130.73 L430.96,129.31 L431.33,127.86 L431.64,126.39 L431.92,124.91 L432.19,123.43 L432.45,121.95 L432.72,120.48 L433.00,119.00 L433.29,117.53 L433.58,116.05 L433.86,114.58 L434.15,113.10 L434.44,111.63 L434.72,110.15 L435.00,108.68 L435.28,107.20 L435.56,105.72 L435.83,104.25 L436.10,102.77 L436.37,101.29 L436.63,99.81 L436.89,98.33 L437.15,96.85 L437.41,95.37 L437.67,93.89 L437.94,92.41 L438.23,90.94 L438.52,89.47 L438.84,88.00 L439.16,86.53 L439.50,85.07 L439.84,83.60 L440.19,82.14 L440.54,80.68 L440.90,79.22 L441.26,77.76 L441.62,76.31 L441.99,74.85 L442.36,73.39 L442.72,71.94 L443.07,70.47 L443.41,69.01 L443.74,67.54 L444.06,66.08 L444.38,64.61 L444.72,63.15 L445.07,61.68 L445.43,60.23 L445.81,58.77 L446.21,57.33 L446.63,55.88 L447.05,54.44 L447.49,53.00 L447.93,51.57 L448.36,50.13 L448.79,48.69 L449.22,47.25 L449.66,45.81 L450.11,44.38 L450.60,42.96 L451.13,41.56 L451.73,40.19 L452.44,38.93 L453.32,37.92 L454.38,37.38 L455.47,37.49 L456.43,38.22 L457.15,39.38 L457.66,40.74 L458.03,42.18 L458.33,43.65 L458.61,45.13 L458.88,46.60 L459.15,48.08 L459.43,49.56 L459.74,51.03 L460.09,52.48 L460.49,53.93 L460.91,55.38 L461.34,56.82 L461.76,58.26 L462.17,59.70 L462.58,61.15 L462.98,62.60 L463.36,64.05 L463.74,65.50 L464.11,66.96 L464.51,68.40 L464.97,69.83 L465.49,71.24 L466.08,72.61 L466.73,73.97 L467.40,75.31 L468.08,76.65 L468.73,78.00 L469.33,79.37 L469.89,80.77 L470.41,82.18 L470.94,83.58 L471.48,84.98 L472.05,86.37 L472.66,87.74 L473.30,89.10 L473.97,90.45 L474.65,91.79 L475.34,93.12 L476.02,94.46 L476.69,95.81 L477.35,97.15 L478.01,98.50 L478.69,99.85 L479.38,101.18 L480.08,102.51 L480.79,103.83 L481.51,105.15 L482.22,106.47 L482.92,107.80 L483.62,109.13 L484.31,110.47 L485.01,111.80 L485.71,113.12 L486.44,114.44 L487.20,115.73 L487.99,117.00 L488.83,118.25 L489.70,119.48 L490.59,120.69 L491.49,121.89 L492.40,123.08 L493.35,124.25 L494.32,125.39 L495.33,126.50 L496.38,127.57 L497.49,128.58 L498.65,129.52 L499.88,130.37 L501.17,131.13 L502.50,131.82 L503.87,132.43 L505.27,132.95 L506.70,133.38 L508.16,133.71 L509.64,133.96 L511.13,134.16 L512.62,134.31 L514.12,134.44 L515.62,134.53 L517.12,134.58 L518.62,134.59 L520.12,134.53 L521.61,134.42 L523.10,134.26 L524.59,134.05 L526.08,133.82 L527.56,133.58 L529.04,133.35 L530.53,133.14 L532.02,132.96 L533.51,132.80 L535.01,132.66 L536.51,132.53 L538.00,132.40 L539.50,132.28 L540.50,132.20" fill="none" stroke="#c67ae8" stroke-width="1.8" stroke-linejoin="round" stroke-linecap="round" clip-path="url(#ca2)"/>
<path d="M332.50,144.00 L334.00,144.03 L335.50,144.06 L337.01,144.10 L338.51,144.13 L340.01,144.16 L341.51,144.20 L343.01,144.23 L344.52,144.26 L346.02,144.30 L347.52,144.33 L349.02,144.36 L350.52,144.40 L352.03,144.43 L353.53,144.46 L355.03,144.50 L356.53,144.53 L358.03,144.56 L359.54,144.60 L361.04,144.63 L362.54,144.66 L364.04,144.69 L365.54,144.73 L367.05,144.76 L368.55,144.79 L370.05,144.82 L371.55,144.85 L373.05,144.88 L374.56,144.91 L376.06,144.93 L377.56,144.96 L379.06,144.98 L380.57,145.01 L382.07,145.03 L383.57,145.05 L385.07,145.07 L386.57,145.08 L388.08,145.10 L389.58,145.11 L391.08,145.13 L392.58,145.14 L394.09,145.15 L395.59,145.16 L397.09,145.18 L398.59,145.19 L400.09,145.21 L401.60,145.23 L403.10,145.25 L404.60,145.27 L406.10,145.29 L407.61,145.30 L409.11,145.29 L410.61,145.25 L412.11,145.19 L413.61,145.09 L415.10,144.97 L416.60,144.81 L418.08,144.59 L419.55,144.30 L420.99,143.91 L422.40,143.42 L423.75,142.79 L425.04,142.05 L426.22,141.15 L427.27,140.12 L428.20,138.96 L429.02,137.71 L429.76,136.41 L430.45,135.07 L431.11,133.73 L431.73,132.37 L432.30,130.98 L432.79,129.57 L433.19,128.12 L433.53,126.66 L433.85,125.19 L434.15,123.72 L434.45,122.25 L434.74,120.78 L435.02,119.30 L435.30,117.82 L435.56,116.34 L435.81,114.86 L436.05,113.38 L436.27,111.89 L436.49,110.41 L436.71,108.92 L436.93,107.44 L437.16,105.95 L437.39,104.47 L437.64,102.98 L437.89,101.50 L438.14,100.02 L438.40,98.54 L438.66,97.06 L438.92,95.58 L439.18,94.10 L439.44,92.62 L439.70,91.14 L439.97,89.67 L440.23,88.19 L440.50,86.71 L440.77,85.23 L441.05,83.75 L441.34,82.28 L441.63,80.81 L441.92,79.33 L442.21,77.86 L442.51,76.39 L442.81,74.91 L443.11,73.44 L443.41,71.97 L443.70,70.50 L444.00,69.02 L444.29,67.55 L444.59,66.08 L444.90,64.61 L445.20,63.14 L445.51,61.67 L445.83,60.20 L446.15,58.73 L446.46,57.26 L446.77,55.79 L447.08,54.32 L447.39,52.85 L447.71,51.38 L448.05,49.92 L448.40,48.46 L448.76,47.00 L449.14,45.55 L449.55,44.10 L449.97,42.66 L450.42,41.22 L450.89,39.80 L451.40,38.39 L451.98,37.01 L452.68,35.72 L453.53,34.60 L454.54,33.85 L455.63,33.70 L456.63,34.22 L457.44,35.25 L458.01,36.55 L458.39,37.98 L458.66,39.45 L458.88,40.93 L459.10,42.42 L459.33,43.90 L459.57,45.39 L459.83,46.87 L460.11,48.34 L460.42,49.81 L460.74,51.28 L461.08,52.74 L461.45,54.20 L461.83,55.65 L462.24,57.10 L462.69,58.53 L463.17,59.95 L463.70,61.36 L464.26,62.75 L464.85,64.13 L465.44,65.51 L466.03,66.89 L466.62,68.28 L467.19,69.66 L467.75,71.06 L468.30,72.46 L468.84,73.86 L469.38,75.26 L469.91,76.66 L470.45,78.07 L470.99,79.47 L471.52,80.87 L472.06,82.28 L472.59,83.68 L473.13,85.09 L473.66,86.49 L474.18,87.90 L474.71,89.31 L475.23,90.72 L475.75,92.13 L476.26,93.54 L476.77,94.95 L477.27,96.37 L477.78,97.78 L478.33,99.18 L478.93,100.55 L479.59,101.90 L480.30,103.22 L481.04,104.52 L481.81,105.81 L482.61,107.09 L483.42,108.35 L484.25,109.60 L485.10,110.84 L485.97,112.07 L486.84,113.29 L487.74,114.50 L488.64,115.70 L489.53,116.90 L490.42,118.12 L491.29,119.34 L492.17,120.56 L493.05,121.77 L493.96,122.97 L494.91,124.13 L495.89,125.27 L496.92,126.36 L498.00,127.39 L499.15,128.35 L500.36,129.23 L501.62,130.05 L502.91,130.81 L504.23,131.52 L505.58,132.15 L506.98,132.69 L508.41,133.13 L509.87,133.48 L511.34,133.75 L512.83,133.95 L514.32,134.08 L515.82,134.15 L517.32,134.17 L518.82,134.13 L520.32,134.05 L521.81,133.91 L523.30,133.71 L524.77,133.43 L526.23,133.10 L527.69,132.73 L529.14,132.36 L530.61,132.02 L532.08,131.72 L533.56,131.46 L535.04,131.23 L536.53,131.03 L538.02,130.83 L539.51,130.63 L540.50,130.50" fill="none" stroke="#e4a11c" stroke-width="1.8" stroke-linejoin="round" stroke-linecap="round" clip-path="url(#ca2)"/>
<path d="M66.20,306.30 L67.68,306.59 L69.15,306.87 L70.63,307.15 L72.11,307.43 L73.59,307.72 L75.07,308.00 L76.54,308.30 L78.02,308.60 L79.49,308.92 L80.95,309.25 L82.42,309.60 L83.88,309.96 L85.33,310.34 L86.78,310.74 L88.23,311.15 L89.68,311.57 L91.12,312.00 L92.56,312.44 L94.00,312.88 L95.43,313.33 L96.87,313.78 L98.30,314.23 L99.74,314.67 L101.18,315.12 L102.62,315.56 L104.06,316.00 L105.50,316.43 L106.94,316.85 L108.39,317.27 L109.84,317.68 L111.28,318.09 L112.73,318.49 L114.18,318.89 L115.64,319.29 L117.09,319.68 L118.54,320.08 L119.99,320.48 L121.44,320.87 L122.89,321.27 L124.34,321.68 L125.79,322.09 L127.24,322.50 L128.68,322.93 L130.12,323.36 L131.56,323.81 L132.99,324.26 L134.42,324.72 L135.85,325.20 L137.28,325.67 L138.70,326.16 L140.13,326.64 L141.55,327.13 L142.97,327.63 L144.38,328.16 L145.77,328.71 L147.15,329.31 L148.51,329.96 L149.84,330.65 L151.14,331.39 L152.42,332.18 L153.65,333.02 L154.84,333.93 L155.98,334.90 L157.05,335.94 L158.06,337.04 L159.02,338.19 L159.92,339.39 L160.76,340.63 L161.57,341.89 L162.36,343.18 L163.12,344.47 L163.88,345.77 L164.64,347.07 L165.41,348.36 L166.18,349.66 L166.96,350.94 L167.75,352.23 L168.54,353.50 L169.35,354.77 L170.18,356.03 L171.02,357.27 L171.89,358.50 L172.79,359.70 L173.72,360.89 L174.67,362.04 L175.67,363.17 L176.70,364.26 L177.77,365.31 L178.89,366.30 L180.05,367.25 L181.25,368.15 L182.49,368.99 L183.77,369.77 L185.09,370.49 L186.43,371.15 L187.80,371.75 L189.20,372.30 L190.62,372.80 L192.05,373.25 L193.49,373.66 L194.95,374.03 L196.42,374.36 L197.89,374.66 L199.37,374.92 L200.86,375.16 L202.34,375.37 L203.84,375.55 L205.33,375.73 L206.83,375.88 L208.33,376.03 L209.82,376.16 L211.32,376.28 L212.82,376.39 L214.33,376.48 L215.83,376.56 L217.33,376.63 L218.84,376.69 L220.34,376.74 L221.84,376.79 L223.35,376.83 L224.85,376.87 L226.36,376.91 L227.86,376.94 L229.36,376.98 L230.87,377.02 L232.37,377.06 L233.88,377.10 L235.38,377.13 L236.89,377.17 L238.39,377.20 L239.89,377.23 L241.40,377.26 L242.90,377.29 L244.41,377.32 L245.91,377.34 L247.42,377.37 L248.92,377.39 L250.43,377.42 L251.93,377.44 L253.44,377.46 L254.94,377.49 L256.45,377.51 L257.95,377.53 L259.45,377.56 L260.96,377.58 L262.46,377.60 L263.97,377.63 L265.47,377.65 L266.98,377.67 L268.48,377.70 L269.99,377.72 L271.49,377.75 L273.00,377.77 L274.50,377.80" fill="none" stroke="#383838" stroke-width="1.8" stroke-linejoin="round" stroke-linecap="round" clip-path="url(#cb1)"/>
<path d="M66.20,284.80 L67.67,285.11 L69.14,285.43 L70.62,285.74 L72.09,286.05 L73.56,286.36 L75.04,286.68 L76.50,287.00 L77.97,287.34 L79.43,287.69 L80.89,288.06 L82.35,288.45 L83.79,288.86 L85.24,289.29 L86.67,289.74 L88.10,290.21 L89.53,290.69 L90.95,291.18 L92.37,291.68 L93.79,292.18 L95.21,292.70 L96.62,293.21 L98.03,293.73 L99.44,294.25 L100.86,294.77 L102.27,295.29 L103.69,295.81 L105.10,296.32 L106.52,296.82 L107.94,297.32 L109.36,297.81 L110.79,298.30 L112.21,298.79 L113.64,299.27 L115.06,299.76 L116.49,300.24 L117.91,300.72 L119.34,301.21 L120.76,301.70 L122.18,302.20 L123.60,302.70 L125.01,303.21 L126.43,303.74 L127.83,304.28 L129.23,304.84 L130.62,305.42 L131.99,306.02 L133.36,306.64 L134.73,307.28 L136.08,307.94 L137.43,308.61 L138.78,309.27 L140.13,309.94 L141.47,310.61 L142.82,311.29 L144.15,311.99 L145.46,312.72 L146.75,313.49 L148.01,314.30 L149.25,315.16 L150.46,316.05 L151.64,316.98 L152.79,317.95 L153.92,318.94 L155.02,319.97 L156.09,321.02 L157.15,322.09 L158.18,323.18 L159.20,324.28 L160.21,325.40 L161.19,326.54 L162.15,327.70 L163.06,328.89 L163.94,330.11 L164.76,331.37 L165.52,332.66 L166.22,333.98 L166.86,335.34 L167.43,336.72 L167.95,338.13 L168.43,339.56 L168.90,340.98 L169.38,342.41 L169.86,343.84 L170.36,345.26 L170.87,346.67 L171.41,348.08 L171.96,349.48 L172.54,350.86 L173.15,352.24 L173.79,353.60 L174.47,354.94 L175.17,356.27 L175.91,357.58 L176.67,358.88 L177.47,360.15 L178.31,361.40 L179.18,362.62 L180.10,363.81 L181.07,364.95 L182.09,366.03 L183.18,367.06 L184.33,368.02 L185.53,368.91 L186.78,369.73 L188.07,370.48 L189.41,371.16 L190.77,371.77 L192.17,372.32 L193.59,372.80 L195.03,373.23 L196.48,373.63 L197.94,373.99 L199.41,374.32 L200.88,374.63 L202.36,374.91 L203.84,375.16 L205.33,375.39 L206.82,375.60 L208.31,375.78 L209.81,375.94 L211.31,376.09 L212.81,376.22 L214.31,376.33 L215.81,376.43 L217.31,376.52 L218.81,376.59 L220.32,376.66 L221.82,376.72 L223.33,376.78 L224.83,376.83 L226.34,376.88 L227.84,376.93 L229.34,376.98 L230.85,377.02 L232.35,377.06 L233.86,377.10 L235.36,377.13 L236.87,377.16 L238.37,377.19 L239.88,377.22 L241.38,377.24 L242.89,377.27 L244.39,377.29 L245.90,377.31 L247.40,377.32 L248.91,377.34 L250.42,377.36 L251.92,377.37 L253.43,377.39 L254.93,377.40 L256.44,377.42 L257.94,377.43 L259.45,377.44 L260.95,377.46 L262.46,377.47 L263.96,377.49 L265.47,377.50 L266.97,377.51 L268.48,377.53 L269.98,377.55 L271.49,377.56 L272.99,377.58 L274.50,377.60" fill="none" stroke="#fb2a30" stroke-width="1.8" stroke-linejoin="round" stroke-linecap="round" clip-path="url(#cb1)"/>
<path d="M66.20,276.60 L67.67,276.92 L69.14,277.24 L70.61,277.56 L72.08,277.87 L73.56,278.19 L75.03,278.51 L76.49,278.85 L77.96,279.19 L79.42,279.55 L80.88,279.93 L82.32,280.34 L83.77,280.76 L85.21,281.21 L86.64,281.67 L88.06,282.15 L89.48,282.65 L90.90,283.16 L92.31,283.68 L93.72,284.20 L95.13,284.74 L96.54,285.28 L97.94,285.82 L99.34,286.36 L100.75,286.91 L102.15,287.45 L103.56,287.99 L104.96,288.53 L106.37,289.06 L107.78,289.59 L109.19,290.11 L110.61,290.62 L112.02,291.13 L113.44,291.64 L114.86,292.15 L116.27,292.66 L117.69,293.17 L119.10,293.69 L120.51,294.21 L121.92,294.74 L123.33,295.28 L124.72,295.84 L126.11,296.42 L127.49,297.02 L128.86,297.65 L130.21,298.31 L131.54,299.01 L132.84,299.75 L134.14,300.52 L135.42,301.31 L136.69,302.10 L137.97,302.89 L139.27,303.66 L140.57,304.40 L141.90,305.12 L143.22,305.82 L144.55,306.53 L145.86,307.27 L147.14,308.05 L148.40,308.87 L149.63,309.73 L150.83,310.64 L152.00,311.58 L153.15,312.55 L154.27,313.55 L155.36,314.58 L156.43,315.64 L157.46,316.73 L158.47,317.85 L159.44,318.99 L160.39,320.16 L161.31,321.35 L162.21,322.55 L163.09,323.77 L163.95,325.01 L164.78,326.26 L165.59,327.52 L166.37,328.81 L167.10,330.12 L167.78,331.46 L168.40,332.83 L168.99,334.21 L169.53,335.61 L170.06,337.02 L170.56,338.44 L171.04,339.86 L171.52,341.29 L172.00,342.72 L172.49,344.14 L172.99,345.56 L173.51,346.97 L174.04,348.38 L174.60,349.78 L175.19,351.16 L175.80,352.54 L176.44,353.90 L177.11,355.24 L177.81,356.57 L178.56,357.88 L179.34,359.16 L180.16,360.41 L181.03,361.64 L181.93,362.84 L182.88,364.00 L183.88,365.12 L184.94,366.18 L186.04,367.18 L187.21,368.12 L188.42,369.00 L189.68,369.80 L190.99,370.53 L192.33,371.20 L193.71,371.79 L195.11,372.32 L196.53,372.78 L197.98,373.19 L199.44,373.54 L200.91,373.85 L202.39,374.12 L203.87,374.36 L205.36,374.58 L206.85,374.79 L208.34,374.98 L209.84,375.16 L211.33,375.33 L212.83,375.48 L214.33,375.62 L215.83,375.75 L217.33,375.86 L218.83,375.96 L220.34,376.04 L221.84,376.13 L223.34,376.20 L224.85,376.27 L226.35,376.34 L227.85,376.40 L229.36,376.47 L230.86,376.53 L232.36,376.59 L233.87,376.65 L235.37,376.70 L236.88,376.75 L238.38,376.80 L239.89,376.84 L241.39,376.88 L242.90,376.92 L244.40,376.96 L245.91,376.99 L247.41,377.03 L248.92,377.06 L250.42,377.10 L251.93,377.13 L253.43,377.16 L254.94,377.19 L256.44,377.22 L257.95,377.25 L259.45,377.28 L260.96,377.31 L262.46,377.34 L263.97,377.37 L265.47,377.40 L266.98,377.43 L268.48,377.46 L269.99,377.50 L271.49,377.53 L273.00,377.57 L274.50,377.60" fill="none" stroke="#1c68e6" stroke-width="1.8" stroke-linejoin="round" stroke-linecap="round" clip-path="url(#cb1)"/>
<path d="M66.20,248.60 L67.65,249.01 L69.10,249.41 L70.54,249.81 L71.99,250.21 L73.44,250.62 L74.89,251.02 L76.33,251.44 L77.77,251.87 L79.21,252.32 L80.64,252.78 L82.06,253.27 L83.47,253.78 L84.88,254.31 L86.28,254.86 L87.67,255.43 L89.06,256.01 L90.44,256.60 L91.81,257.21 L93.18,257.83 L94.55,258.45 L95.92,259.08 L97.28,259.72 L98.64,260.36 L100.00,261.00 L101.36,261.65 L102.71,262.29 L104.07,262.94 L105.43,263.59 L106.78,264.24 L108.14,264.90 L109.49,265.55 L110.84,266.21 L112.19,266.87 L113.54,267.53 L114.89,268.20 L116.23,268.87 L117.58,269.55 L118.92,270.22 L120.26,270.90 L121.60,271.58 L122.94,272.26 L124.28,272.95 L125.62,273.64 L126.95,274.33 L128.29,275.02 L129.62,275.71 L130.96,276.40 L132.29,277.10 L133.62,277.81 L134.94,278.51 L136.27,279.23 L137.58,279.95 L138.89,280.69 L140.20,281.44 L141.49,282.20 L142.78,282.98 L144.04,283.79 L145.27,284.65 L146.46,285.55 L147.62,286.51 L148.73,287.51 L149.81,288.55 L150.86,289.62 L151.89,290.72 L152.88,291.84 L153.85,292.99 L154.79,294.16 L155.71,295.35 L156.59,296.57 L157.44,297.80 L158.26,299.06 L159.05,300.34 L159.81,301.63 L160.55,302.94 L161.27,304.26 L161.97,305.59 L162.66,306.93 L163.34,308.27 L164.01,309.62 L164.66,310.97 L165.30,312.33 L165.92,313.70 L166.52,315.08 L167.10,316.46 L167.67,317.85 L168.23,319.25 L168.79,320.64 L169.36,322.04 L169.92,323.43 L170.49,324.82 L171.06,326.21 L171.64,327.60 L172.20,329.00 L172.76,330.39 L173.29,331.80 L173.81,333.21 L174.31,334.63 L174.79,336.05 L175.25,337.48 L175.70,338.92 L176.14,340.35 L176.57,341.79 L177.00,343.23 L177.43,344.68 L177.86,346.11 L178.31,347.55 L178.79,348.97 L179.32,350.37 L179.90,351.75 L180.53,353.11 L181.21,354.45 L181.94,355.76 L182.70,357.06 L183.50,358.33 L184.34,359.57 L185.20,360.80 L186.11,361.99 L187.07,363.15 L188.07,364.25 L189.13,365.31 L190.25,366.30 L191.42,367.23 L192.64,368.09 L193.90,368.90 L195.20,369.64 L196.53,370.31 L197.90,370.93 L199.29,371.48 L200.71,371.96 L202.15,372.39 L203.60,372.78 L205.06,373.12 L206.53,373.43 L208.00,373.71 L209.48,373.98 L210.97,374.22 L212.45,374.44 L213.94,374.64 L215.43,374.83 L216.93,374.99 L218.42,375.14 L219.92,375.28 L221.42,375.40 L222.92,375.52 L224.42,375.63 L225.92,375.73 L227.42,375.83 L228.92,375.92 L230.42,376.01 L231.92,376.10 L233.42,376.18 L234.92,376.25 L236.43,376.32 L237.93,376.38 L239.43,376.44 L240.93,376.50 L242.44,376.55 L243.94,376.60 L245.44,376.65 L246.94,376.69 L248.45,376.73 L249.95,376.77 L251.45,376.81 L252.96,376.85 L254.46,376.89 L255.96,376.92 L257.47,376.96 L258.97,377.00 L260.47,377.03 L261.97,377.07 L263.48,377.10 L264.98,377.14 L266.48,377.18 L267.99,377.22 L269.49,377.26 L270.99,377.30 L272.50,377.34 L274.00,377.39 L274.50,377.40" fill="none" stroke="#18b070" stroke-width="1.8" stroke-linejoin="round" stroke-linecap="round" clip-path="url(#cb1)"/>
<path d="M66.20,244.80 L67.66,245.18 L69.11,245.56 L70.57,245.94 L72.03,246.32 L73.48,246.70 L74.94,247.08 L76.39,247.47 L77.84,247.87 L79.29,248.28 L80.73,248.70 L82.17,249.15 L83.60,249.61 L85.03,250.08 L86.45,250.57 L87.87,251.07 L89.28,251.59 L90.70,252.11 L92.10,252.65 L93.51,253.19 L94.91,253.73 L96.31,254.28 L97.71,254.84 L99.11,255.39 L100.51,255.95 L101.91,256.50 L103.31,257.06 L104.71,257.61 L106.11,258.16 L107.51,258.71 L108.91,259.26 L110.31,259.81 L111.71,260.35 L113.11,260.90 L114.52,261.45 L115.92,262.00 L117.32,262.55 L118.72,263.10 L120.12,263.65 L121.52,264.21 L122.91,264.77 L124.31,265.34 L125.70,265.91 L127.09,266.49 L128.47,267.07 L129.86,267.67 L131.23,268.27 L132.61,268.89 L133.97,269.52 L135.34,270.16 L136.69,270.80 L138.05,271.45 L139.41,272.10 L140.77,272.75 L142.12,273.41 L143.47,274.08 L144.80,274.78 L146.10,275.52 L147.38,276.31 L148.63,277.14 L149.85,278.01 L151.05,278.91 L152.24,279.83 L153.42,280.77 L154.59,281.72 L155.74,282.69 L156.86,283.68 L157.95,284.71 L158.99,285.79 L159.97,286.92 L160.89,288.10 L161.77,289.32 L162.60,290.57 L163.41,291.83 L164.21,293.11 L165.01,294.38 L165.80,295.66 L166.59,296.94 L167.36,298.24 L168.10,299.54 L168.81,300.87 L169.49,302.21 L170.12,303.57 L170.71,304.95 L171.28,306.35 L171.82,307.75 L172.34,309.16 L172.85,310.58 L173.34,312.00 L173.83,313.42 L174.31,314.85 L174.77,316.28 L175.23,317.71 L175.67,319.15 L176.10,320.59 L176.52,322.04 L176.93,323.49 L177.33,324.94 L177.72,326.39 L178.10,327.85 L178.49,329.30 L178.88,330.75 L179.28,332.20 L179.69,333.65 L180.11,335.10 L180.54,336.54 L180.99,337.98 L181.44,339.41 L181.91,340.84 L182.39,342.27 L182.88,343.69 L183.40,345.10 L183.93,346.51 L184.48,347.91 L185.06,349.30 L185.67,350.67 L186.32,352.03 L186.99,353.37 L187.70,354.69 L188.45,356.00 L189.24,357.27 L190.07,358.52 L190.95,359.74 L191.88,360.92 L192.86,362.04 L193.90,363.11 L195.01,364.12 L196.18,365.05 L197.40,365.91 L198.67,366.70 L199.98,367.43 L201.32,368.10 L202.68,368.73 L204.07,369.30 L205.48,369.83 L206.90,370.31 L208.33,370.77 L209.77,371.21 L211.22,371.63 L212.66,372.03 L214.12,372.42 L215.58,372.79 L217.04,373.15 L218.50,373.48 L219.97,373.80 L221.45,374.09 L222.93,374.35 L224.42,374.58 L225.91,374.79 L227.40,374.98 L228.89,375.14 L230.39,375.28 L231.89,375.41 L233.39,375.52 L234.89,375.62 L236.40,375.71 L237.90,375.80 L239.40,375.89 L240.90,375.97 L242.41,376.04 L243.91,376.11 L245.41,376.18 L246.92,376.24 L248.42,376.29 L249.93,376.34 L251.43,376.38 L252.93,376.42 L254.44,376.46 L255.94,376.50 L257.45,376.53 L258.95,376.56 L260.46,376.60 L261.96,376.63 L263.47,376.66 L264.97,376.69 L266.48,376.72 L267.98,376.75 L269.48,376.78 L270.99,376.82 L272.49,376.85 L274.00,376.89 L274.50,376.90" fill="none" stroke="#c67ae8" stroke-width="1.8" stroke-linejoin="round" stroke-linecap="round" clip-path="url(#cb1)"/>
<path d="M332.50,371.60 L334.00,371.60 L335.51,371.59 L337.01,371.59 L338.51,371.59 L340.01,371.59 L341.52,371.59 L343.02,371.59 L344.52,371.58 L346.03,371.58 L347.53,371.58 L349.03,371.58 L350.54,371.57 L352.04,371.57 L353.54,371.56 L355.04,371.55 L356.55,371.54 L358.05,371.52 L359.55,371.50 L361.06,371.48 L362.56,371.45 L364.06,371.41 L365.56,371.38 L367.07,371.33 L368.57,371.29 L370.07,371.24 L371.57,371.20 L373.08,371.15 L374.58,371.11 L376.08,371.08 L377.58,371.05 L379.09,371.02 L380.59,371.00 L382.09,370.99 L383.60,370.99 L385.10,371.00 L386.60,371.01 L388.10,371.02 L389.61,371.04 L391.11,371.06 L392.61,371.08 L394.12,371.09 L395.62,371.11 L397.12,371.11 L398.62,371.12 L400.13,371.11 L401.63,371.09 L403.13,371.05 L404.63,370.99 L406.13,370.91 L407.63,370.79 L409.12,370.63 L410.61,370.40 L412.07,370.09 L413.52,369.71 L414.95,369.25 L416.36,368.73 L417.74,368.16 L419.07,367.50 L420.30,366.68 L421.42,365.71 L422.43,364.63 L423.38,363.46 L424.27,362.26 L425.10,361.01 L425.87,359.72 L426.55,358.39 L427.14,357.02 L427.66,355.61 L428.12,354.18 L428.55,352.74 L428.95,351.29 L429.33,349.84 L429.70,348.38 L430.05,346.92 L430.38,345.45 L430.70,343.98 L431.00,342.51 L431.28,341.04 L431.56,339.56 L431.82,338.08 L432.08,336.60 L432.34,335.12 L432.59,333.64 L432.84,332.15 L433.09,330.67 L433.33,329.19 L433.58,327.71 L433.82,326.22 L434.06,324.74 L434.29,323.25 L434.52,321.77 L434.75,320.28 L434.98,318.80 L435.20,317.31 L435.42,315.82 L435.64,314.34 L435.87,312.85 L436.08,311.36 L436.30,309.88 L436.52,308.39 L436.74,306.90 L436.96,305.42 L437.17,303.93 L437.38,302.44 L437.59,300.95 L437.80,299.46 L438.01,297.97 L438.21,296.49 L438.42,295.00 L438.63,293.51 L438.85,292.02 L439.06,290.53 L439.29,289.05 L439.52,287.56 L439.76,286.08 L440.02,284.60 L440.28,283.12 L440.55,281.64 L440.82,280.16 L441.09,278.68 L441.35,277.20 L441.60,275.72 L441.83,274.24 L442.05,272.75 L442.27,271.26 L442.48,269.77 L442.69,268.29 L442.91,266.80 L443.13,265.31 L443.37,263.83 L443.62,262.35 L443.87,260.87 L444.14,259.39 L444.42,257.91 L444.70,256.43 L445.01,254.96 L445.32,253.49 L445.65,252.02 L445.99,250.56 L446.35,249.10 L446.74,247.65 L447.17,246.21 L447.64,244.79 L448.15,243.37 L448.71,241.99 L449.37,240.65 L450.17,239.41 L451.14,238.32 L452.27,237.47 L453.54,237.00 L454.87,237.00 L456.15,237.46 L457.31,238.28 L458.31,239.35 L459.15,240.56 L459.87,241.87 L460.51,243.23 L461.09,244.61 L461.64,246.01 L462.15,247.42 L462.65,248.84 L463.14,250.26 L463.62,251.69 L464.08,253.11 L464.53,254.55 L464.97,255.98 L465.41,257.42 L465.85,258.86 L466.30,260.29 L466.75,261.73 L467.20,263.16 L467.66,264.59 L468.12,266.02 L468.59,267.45 L469.07,268.87 L469.56,270.30 L470.07,271.71 L470.58,273.13 L471.09,274.54 L471.60,275.95 L472.11,277.37 L472.62,278.78 L473.13,280.19 L473.64,281.61 L474.15,283.02 L474.65,284.44 L475.15,285.85 L475.65,287.27 L476.15,288.69 L476.65,290.11 L477.16,291.52 L477.67,292.94 L478.19,294.35 L478.71,295.76 L479.24,297.16 L479.77,298.57 L480.30,299.98 L480.82,301.38 L481.34,302.80 L481.86,304.21 L482.39,305.61 L482.93,307.01 L483.49,308.41 L484.08,309.79 L484.69,311.16 L485.32,312.53 L485.97,313.88 L486.62,315.24 L487.28,316.59 L487.95,317.93 L488.62,319.28 L489.31,320.62 L489.99,321.95 L490.68,323.29 L491.37,324.63 L492.07,325.96 L492.77,327.28 L493.49,328.60 L494.23,329.91 L494.98,331.22 L495.74,332.51 L496.51,333.80 L497.29,335.08 L498.12,336.34 L498.99,337.56 L499.93,338.72 L500.95,339.82 L502.03,340.85 L503.18,341.82 L504.37,342.73 L505.61,343.58 L506.87,344.38 L508.17,345.14 L509.49,345.86 L510.84,346.52 L512.21,347.12 L513.61,347.64 L515.04,348.10 L516.49,348.48 L517.96,348.78 L519.44,349.02 L520.93,349.20 L522.43,349.30 L523.93,349.33 L525.42,349.25 L526.90,349.06 L528.37,348.78 L529.83,348.41 L531.26,347.98 L532.69,347.51 L534.12,347.04 L535.56,346.64 L537.02,346.35 L538.51,346.16 L540.00,346.04 L540.50,346.00" fill="none" stroke="#383838" stroke-width="1.8" stroke-linejoin="round" stroke-linecap="round" clip-path="url(#cb2)"/>
<path d="M332.50,373.00 L334.00,372.99 L335.51,372.99 L337.01,372.98 L338.51,372.98 L340.02,372.97 L341.52,372.96 L343.02,372.96 L344.53,372.95 L346.03,372.95 L347.53,372.94 L349.04,372.94 L350.54,372.93 L352.04,372.92 L353.55,372.92 L355.05,372.91 L356.55,372.91 L358.06,372.90 L359.56,372.90 L361.06,372.89 L362.57,372.88 L364.07,372.88 L365.57,372.87 L367.08,372.87 L368.58,372.86 L370.08,372.85 L371.59,372.84 L373.09,372.84 L374.59,372.83 L376.10,372.82 L377.60,372.81 L379.10,372.81 L380.61,372.80 L382.11,372.79 L383.61,372.79 L385.12,372.78 L386.62,372.78 L388.12,372.78 L389.63,372.78 L391.13,372.78 L392.63,372.77 L394.14,372.77 L395.64,372.76 L397.14,372.75 L398.64,372.74 L400.15,372.72 L401.65,372.69 L403.15,372.65 L404.66,372.60 L406.16,372.55 L407.66,372.48 L409.16,372.39 L410.66,372.26 L412.14,372.07 L413.62,371.80 L415.07,371.44 L416.50,370.99 L417.89,370.43 L419.22,369.77 L420.49,368.99 L421.69,368.09 L422.79,367.08 L423.79,365.98 L424.69,364.79 L425.51,363.54 L426.25,362.24 L426.93,360.89 L427.53,359.52 L428.08,358.13 L428.58,356.71 L429.03,355.27 L429.44,353.83 L429.82,352.38 L430.19,350.92 L430.55,349.46 L430.91,348.00 L431.26,346.54 L431.60,345.07 L431.95,343.61 L432.28,342.15 L432.61,340.68 L432.93,339.21 L433.25,337.74 L433.56,336.27 L433.86,334.80 L434.15,333.32 L434.44,331.85 L434.71,330.37 L434.98,328.89 L435.23,327.41 L435.48,325.92 L435.71,324.44 L435.93,322.95 L436.15,321.46 L436.36,319.98 L436.57,318.49 L436.78,317.00 L436.98,315.51 L437.19,314.02 L437.40,312.53 L437.62,311.04 L437.84,309.56 L438.07,308.07 L438.30,306.59 L438.54,305.10 L438.79,303.62 L439.04,302.14 L439.29,300.65 L439.54,299.17 L439.79,297.69 L440.05,296.21 L440.31,294.73 L440.56,293.25 L440.82,291.77 L441.09,290.29 L441.35,288.81 L441.61,287.33 L441.87,285.85 L442.14,284.37 L442.40,282.89 L442.67,281.41 L442.94,279.93 L443.21,278.45 L443.48,276.97 L443.75,275.49 L444.02,274.01 L444.29,272.53 L444.56,271.05 L444.81,269.57 L445.07,268.09 L445.32,266.61 L445.58,265.13 L445.84,263.65 L446.12,262.17 L446.43,260.70 L446.75,259.23 L447.09,257.77 L447.46,256.31 L447.87,254.87 L448.31,253.43 L448.81,252.02 L449.37,250.63 L450.01,249.28 L450.77,248.01 L451.68,246.90 L452.77,246.10 L453.99,245.79 L455.24,246.03 L456.41,246.75 L457.46,247.75 L458.39,248.91 L459.23,250.14 L460.02,251.42 L460.77,252.72 L461.49,254.04 L462.18,255.38 L462.85,256.72 L463.52,258.07 L464.18,259.42 L464.83,260.77 L465.47,262.13 L466.09,263.50 L466.71,264.87 L467.32,266.25 L467.92,267.62 L468.52,269.00 L469.14,270.37 L469.78,271.73 L470.44,273.08 L471.11,274.42 L471.80,275.76 L472.49,277.10 L473.18,278.43 L473.86,279.77 L474.53,281.12 L475.19,282.47 L475.82,283.83 L476.45,285.20 L477.07,286.57 L477.69,287.94 L478.29,289.32 L478.89,290.69 L479.50,292.07 L480.10,293.45 L480.72,294.82 L481.34,296.18 L481.98,297.54 L482.63,298.90 L483.30,300.25 L483.98,301.59 L484.68,302.92 L485.40,304.24 L486.15,305.54 L486.93,306.82 L487.73,308.10 L488.54,309.36 L489.35,310.63 L490.15,311.90 L490.96,313.17 L491.76,314.44 L492.56,315.71 L493.36,316.99 L494.15,318.27 L494.93,319.55 L495.71,320.84 L496.47,322.13 L497.24,323.42 L498.03,324.70 L498.84,325.97 L499.68,327.21 L500.54,328.44 L501.42,329.66 L502.32,330.87 L503.24,332.06 L504.17,333.24 L505.13,334.39 L506.11,335.53 L507.13,336.64 L508.18,337.71 L509.26,338.75 L510.37,339.76 L511.51,340.74 L512.67,341.69 L513.87,342.61 L515.08,343.49 L516.31,344.35 L517.57,345.17 L518.85,345.96 L520.15,346.71 L521.47,347.42 L522.82,348.09 L524.18,348.72 L525.56,349.31 L526.97,349.85 L528.38,350.34 L529.82,350.79 L531.26,351.20 L532.72,351.58 L534.17,351.95 L535.63,352.30 L537.10,352.66 L538.56,353.01 L540.01,353.38 L540.50,353.50" fill="none" stroke="#fb2a30" stroke-width="1.8" stroke-linejoin="round" stroke-linecap="round" clip-path="url(#cb2)"/>
<path d="M332.50,372.00 L334.00,372.01 L335.51,372.02 L337.01,372.02 L338.52,372.03 L340.02,372.04 L341.52,372.05 L343.03,372.07 L344.53,372.08 L346.03,372.09 L347.54,372.10 L349.04,372.11 L350.54,372.12 L352.05,372.14 L353.55,372.15 L355.06,372.16 L356.56,372.17 L358.06,372.18 L359.57,372.19 L361.07,372.20 L362.57,372.21 L364.08,372.21 L365.58,372.22 L367.09,372.23 L368.59,372.23 L370.09,372.23 L371.60,372.23 L373.10,372.23 L374.60,372.23 L376.11,372.22 L377.61,372.22 L379.12,372.20 L380.62,372.19 L382.12,372.17 L383.63,372.16 L385.13,372.14 L386.63,372.11 L388.14,372.09 L389.64,372.06 L391.15,372.03 L392.65,372.00 L394.15,371.97 L395.66,371.93 L397.16,371.89 L398.66,371.84 L400.16,371.79 L401.67,371.74 L403.17,371.68 L404.67,371.61 L406.17,371.54 L407.68,371.45 L409.18,371.35 L410.67,371.23 L412.17,371.07 L413.66,370.88 L415.14,370.63 L416.59,370.29 L418.00,369.81 L419.34,369.18 L420.61,368.41 L421.81,367.51 L422.92,366.51 L423.95,365.43 L424.92,364.29 L425.84,363.10 L426.71,361.88 L427.53,360.62 L428.28,359.32 L428.95,357.98 L429.53,356.60 L430.04,355.19 L430.49,353.76 L430.90,352.31 L431.28,350.86 L431.65,349.40 L432.02,347.94 L432.37,346.48 L432.73,345.02 L433.07,343.55 L433.41,342.09 L433.74,340.62 L434.05,339.15 L434.36,337.68 L434.67,336.21 L434.96,334.73 L435.26,333.26 L435.54,331.78 L435.82,330.30 L436.10,328.82 L436.37,327.34 L436.63,325.86 L436.88,324.38 L437.13,322.90 L437.37,321.41 L437.61,319.93 L437.84,318.44 L438.08,316.96 L438.31,315.47 L438.54,313.99 L438.77,312.50 L439.00,311.01 L439.23,309.53 L439.47,308.04 L439.70,306.56 L439.94,305.07 L440.17,303.59 L440.40,302.10 L440.64,300.62 L440.87,299.13 L441.10,297.64 L441.33,296.16 L441.56,294.67 L441.80,293.19 L442.04,291.70 L442.28,290.22 L442.53,288.74 L442.79,287.25 L443.06,285.78 L443.34,284.30 L443.64,282.83 L443.95,281.35 L444.26,279.88 L444.55,278.41 L444.83,276.93 L445.08,275.45 L445.32,273.96 L445.55,272.48 L445.77,270.99 L445.99,269.50 L446.22,268.02 L446.46,266.53 L446.70,265.05 L446.95,263.56 L447.21,262.08 L447.47,260.60 L447.75,259.12 L448.05,257.65 L448.36,256.18 L448.70,254.72 L449.05,253.25 L449.43,251.80 L449.84,250.35 L450.28,248.92 L450.79,247.51 L451.36,246.12 L452.01,244.77 L452.77,243.48 L453.65,242.31 L454.68,241.33 L455.86,240.71 L457.12,240.61 L458.36,241.02 L459.54,241.82 L460.63,242.82 L461.65,243.91 L462.61,245.06 L463.49,246.28 L464.30,247.54 L465.05,248.84 L465.75,250.17 L466.43,251.51 L467.08,252.86 L467.71,254.23 L468.33,255.60 L468.94,256.97 L469.53,258.35 L470.12,259.74 L470.71,261.12 L471.30,262.51 L471.89,263.89 L472.49,265.27 L473.09,266.65 L473.70,268.02 L474.30,269.40 L474.91,270.77 L475.52,272.15 L476.13,273.53 L476.73,274.90 L477.35,276.27 L477.97,277.64 L478.60,279.01 L479.24,280.37 L479.90,281.72 L480.55,283.07 L481.22,284.42 L481.89,285.77 L482.56,287.11 L483.24,288.46 L483.92,289.80 L484.60,291.14 L485.30,292.47 L486.00,293.80 L486.71,295.12 L487.43,296.44 L488.17,297.76 L488.91,299.07 L489.65,300.37 L490.41,301.67 L491.17,302.97 L491.93,304.26 L492.71,305.55 L493.49,306.84 L494.27,308.12 L495.07,309.40 L495.87,310.67 L496.68,311.94 L497.50,313.20 L498.32,314.46 L499.14,315.72 L499.97,316.97 L500.80,318.23 L501.63,319.48 L502.46,320.73 L503.31,321.98 L504.16,323.22 L505.02,324.45 L505.90,325.67 L506.79,326.88 L507.69,328.08 L508.59,329.29 L509.51,330.48 L510.43,331.66 L511.38,332.83 L512.36,333.97 L513.37,335.08 L514.42,336.16 L515.50,337.21 L516.61,338.22 L517.75,339.20 L518.91,340.15 L520.10,341.07 L521.31,341.96 L522.54,342.83 L523.79,343.66 L525.05,344.47 L526.34,345.24 L527.65,345.98 L528.98,346.67 L530.34,347.33 L531.71,347.95 L533.09,348.54 L534.48,349.12 L535.87,349.69 L537.26,350.25 L538.65,350.83 L540.04,351.41 L540.50,351.60" fill="none" stroke="#1c68e6" stroke-width="1.8" stroke-linejoin="round" stroke-linecap="round" clip-path="url(#cb2)"/>
<path d="M332.50,374.00 L334.00,374.10 L335.50,374.20 L337.00,374.30 L338.50,374.41 L339.99,374.51 L341.49,374.61 L342.99,374.72 L344.49,374.82 L345.99,374.92 L347.49,375.03 L348.99,375.13 L350.49,375.23 L351.99,375.32 L353.48,375.42 L354.98,375.51 L356.48,375.60 L357.98,375.69 L359.48,375.77 L360.98,375.85 L362.48,375.93 L363.98,376.01 L365.48,376.08 L366.98,376.16 L368.49,376.23 L369.99,376.30 L371.49,376.37 L372.99,376.43 L374.49,376.49 L375.99,376.55 L377.49,376.60 L378.99,376.65 L380.49,376.70 L382.00,376.74 L383.50,376.77 L385.00,376.80 L386.50,376.82 L388.00,376.84 L389.51,376.85 L391.01,376.86 L392.51,376.87 L394.01,376.87 L395.52,376.86 L397.02,376.85 L398.52,376.83 L400.02,376.80 L401.52,376.75 L403.02,376.69 L404.52,376.61 L406.02,376.51 L407.52,376.38 L409.01,376.22 L410.50,376.02 L411.97,375.75 L413.43,375.41 L414.87,374.98 L416.28,374.47 L417.66,373.89 L419.00,373.24 L420.31,372.50 L421.55,371.67 L422.71,370.74 L423.80,369.72 L424.83,368.63 L425.82,367.50 L426.76,366.33 L427.65,365.13 L428.50,363.89 L429.30,362.62 L430.06,361.32 L430.75,360.00 L431.37,358.63 L431.91,357.24 L432.38,355.81 L432.79,354.37 L433.15,352.91 L433.49,351.45 L433.81,349.98 L434.12,348.51 L434.43,347.04 L434.75,345.57 L435.06,344.10 L435.36,342.63 L435.65,341.16 L435.94,339.68 L436.22,338.21 L436.50,336.73 L436.77,335.25 L437.03,333.77 L437.30,332.29 L437.55,330.81 L437.81,329.33 L438.05,327.85 L438.29,326.37 L438.53,324.88 L438.76,323.40 L438.98,321.91 L439.20,320.43 L439.42,318.94 L439.64,317.46 L439.85,315.97 L440.06,314.48 L440.28,312.99 L440.49,311.51 L440.70,310.02 L440.91,308.53 L441.12,307.05 L441.34,305.56 L441.55,304.07 L441.76,302.58 L441.97,301.10 L442.19,299.61 L442.40,298.12 L442.60,296.63 L442.81,295.15 L443.01,293.66 L443.21,292.17 L443.41,290.68 L443.59,289.19 L443.77,287.70 L443.95,286.20 L444.12,284.71 L444.29,283.22 L444.48,281.73 L444.68,280.24 L444.88,278.75 L445.09,277.26 L445.30,275.78 L445.53,274.29 L445.75,272.81 L445.99,271.32 L446.23,269.84 L446.48,268.36 L446.73,266.88 L446.99,265.40 L447.26,263.92 L447.55,262.45 L447.86,260.98 L448.18,259.51 L448.53,258.05 L448.89,256.59 L449.29,255.14 L449.72,253.71 L450.21,252.28 L450.74,250.88 L451.34,249.51 L452.01,248.18 L452.82,246.94 L453.78,245.87 L454.92,245.09 L456.21,244.73 L457.55,244.85 L458.85,245.37 L460.06,246.19 L461.16,247.18 L462.19,248.26 L463.18,249.39 L464.14,250.54 L465.07,251.72 L465.95,252.93 L466.78,254.18 L467.57,255.46 L468.33,256.75 L469.06,258.06 L469.77,259.39 L470.46,260.73 L471.13,262.07 L471.79,263.42 L472.44,264.77 L473.08,266.13 L473.71,267.49 L474.34,268.86 L474.96,270.23 L475.57,271.60 L476.18,272.97 L476.79,274.35 L477.41,275.71 L478.05,277.07 L478.70,278.43 L479.37,279.77 L480.04,281.12 L480.72,282.46 L481.39,283.80 L482.07,285.14 L482.75,286.48 L483.42,287.82 L484.10,289.16 L484.79,290.50 L485.48,291.83 L486.17,293.16 L486.87,294.49 L487.58,295.82 L488.30,297.14 L489.02,298.46 L489.76,299.77 L490.50,301.07 L491.26,302.37 L492.02,303.66 L492.79,304.95 L493.57,306.23 L494.36,307.51 L495.16,308.79 L495.96,310.06 L496.76,311.33 L497.56,312.60 L498.37,313.87 L499.18,315.13 L499.99,316.40 L500.81,317.66 L501.62,318.92 L502.44,320.18 L503.25,321.45 L504.06,322.71 L504.88,323.97 L505.71,325.22 L506.56,326.46 L507.43,327.68 L508.32,328.89 L509.23,330.09 L510.15,331.28 L511.08,332.46 L512.03,333.62 L512.99,334.77 L513.98,335.90 L514.99,337.01 L516.03,338.10 L517.10,339.15 L518.20,340.17 L519.32,341.16 L520.48,342.12 L521.66,343.05 L522.86,343.96 L524.08,344.84 L525.31,345.70 L526.55,346.54 L527.81,347.36 L529.07,348.17 L530.36,348.95 L531.66,349.70 L532.97,350.43 L534.29,351.14 L535.62,351.84 L536.95,352.53 L538.29,353.23 L539.61,353.93 L540.50,354.40" fill="none" stroke="#18b070" stroke-width="1.8" stroke-linejoin="round" stroke-linecap="round" clip-path="url(#cb2)"/>
<path d="M332.50,376.00 L334.00,376.13 L335.49,376.26 L336.99,376.39 L338.49,376.52 L339.98,376.65 L341.48,376.78 L342.98,376.91 L344.47,377.05 L345.97,377.18 L347.47,377.31 L348.96,377.44 L350.46,377.56 L351.96,377.69 L353.45,377.81 L354.95,377.93 L356.45,378.04 L357.95,378.15 L359.45,378.26 L360.94,378.36 L362.44,378.46 L363.94,378.56 L365.44,378.66 L366.94,378.76 L368.44,378.85 L369.94,378.94 L371.44,379.03 L372.94,379.11 L374.44,379.19 L375.94,379.27 L377.44,379.34 L378.94,379.40 L380.44,379.46 L381.94,379.51 L383.45,379.55 L384.95,379.59 L386.45,379.62 L387.95,379.64 L389.45,379.66 L390.96,379.67 L392.46,379.68 L393.96,379.68 L395.46,379.67 L396.96,379.65 L398.47,379.63 L399.97,379.59 L401.47,379.55 L402.97,379.49 L404.47,379.42 L405.97,379.33 L407.47,379.22 L408.96,379.08 L410.45,378.90 L411.93,378.65 L413.40,378.34 L414.85,377.97 L416.28,377.52 L417.69,377.02 L419.08,376.44 L420.43,375.80 L421.75,375.09 L423.03,374.31 L424.27,373.47 L425.48,372.58 L426.64,371.64 L427.76,370.63 L428.81,369.57 L429.78,368.43 L430.69,367.24 L431.53,366.00 L432.32,364.73 L433.08,363.43 L433.79,362.11 L434.46,360.77 L435.09,359.40 L435.66,358.02 L436.19,356.61 L436.68,355.19 L437.13,353.76 L437.56,352.32 L437.96,350.87 L438.34,349.42 L438.70,347.96 L439.05,346.50 L439.38,345.03 L439.69,343.56 L439.98,342.09 L440.26,340.62 L440.54,339.14 L440.80,337.66 L441.06,336.18 L441.31,334.70 L441.56,333.22 L441.81,331.74 L442.05,330.25 L442.30,328.77 L442.54,327.29 L442.77,325.80 L443.00,324.32 L443.23,322.83 L443.45,321.35 L443.66,319.86 L443.88,318.38 L444.10,316.89 L444.32,315.40 L444.54,313.92 L444.76,312.43 L445.00,310.95 L445.23,309.46 L445.47,307.98 L445.72,306.50 L445.97,305.02 L446.22,303.54 L446.48,302.06 L446.73,300.58 L446.99,299.10 L447.25,297.62 L447.51,296.14 L447.79,294.66 L448.07,293.18 L448.36,291.71 L448.66,290.24 L448.98,288.77 L449.31,287.31 L449.67,285.85 L450.05,284.40 L450.47,282.95 L450.90,281.52 L451.36,280.08 L451.82,278.66 L452.28,277.23 L452.73,275.79 L453.15,274.35 L453.54,272.90 L453.91,271.44 L454.26,269.98 L454.62,268.53 L454.99,267.07 L455.38,265.62 L455.80,264.18 L456.28,262.76 L456.87,261.39 L457.58,260.09 L458.44,258.89 L459.46,257.85 L460.66,257.04 L461.99,256.51 L463.40,256.29 L464.83,256.40 L466.21,256.82 L467.50,257.50 L468.69,258.38 L469.77,259.40 L470.75,260.53 L471.66,261.72 L472.50,262.95 L473.30,264.23 L474.05,265.53 L474.78,266.84 L475.48,268.17 L476.17,269.50 L476.85,270.84 L477.51,272.19 L478.18,273.54 L478.85,274.88 L479.53,276.22 L480.20,277.57 L480.85,278.92 L481.48,280.28 L482.10,281.65 L482.69,283.03 L483.28,284.41 L483.87,285.79 L484.47,287.17 L485.07,288.55 L485.68,289.92 L486.29,291.30 L486.89,292.67 L487.50,294.04 L488.10,295.42 L488.71,296.79 L489.32,298.16 L489.96,299.53 L490.61,300.88 L491.30,302.21 L492.03,303.53 L492.79,304.82 L493.57,306.10 L494.38,307.37 L495.20,308.62 L496.04,309.87 L496.90,311.10 L497.77,312.33 L498.65,313.55 L499.53,314.76 L500.41,315.98 L501.28,317.21 L502.15,318.43 L503.01,319.66 L503.88,320.88 L504.76,322.10 L505.65,323.31 L506.56,324.51 L507.47,325.70 L508.39,326.89 L509.33,328.06 L510.27,329.23 L511.22,330.39 L512.18,331.55 L513.15,332.70 L514.13,333.84 L515.13,334.96 L516.15,336.06 L517.19,337.14 L518.27,338.19 L519.37,339.21 L520.49,340.20 L521.64,341.17 L522.81,342.11 L524.01,343.01 L525.23,343.89 L526.48,344.72 L527.76,345.51 L529.06,346.26 L530.38,346.97 L531.72,347.64 L533.08,348.28 L534.46,348.88 L535.84,349.47 L537.23,350.03 L538.63,350.58 L540.03,351.12 L540.50,351.30" fill="none" stroke="#c67ae8" stroke-width="1.8" stroke-linejoin="round" stroke-linecap="round" clip-path="url(#cb2)"/>
<rect x="65.9" y="7.2" width="208.70" height="168.30" fill="none" stroke="#2a2a2a" stroke-width="1.6"/>
<line x1="65.90" y1="175.5" x2="65.90" y2="178.70" stroke="#2a2a2a" stroke-width="1.3"/>
<text x="65.90" y="189.80" text-anchor="middle" class="tk">-60</text>
<line x1="91.99" y1="175.5" x2="91.99" y2="177.50" stroke="#2a2a2a" stroke-width="1.3"/>
<line x1="118.08" y1="175.5" x2="118.08" y2="178.70" stroke="#2a2a2a" stroke-width="1.3"/>
<text x="118.08" y="189.80" text-anchor="middle" class="tk">-30</text>
<line x1="144.16" y1="175.5" x2="144.16" y2="177.50" stroke="#2a2a2a" stroke-width="1.3"/>
<line x1="170.25" y1="175.5" x2="170.25" y2="178.70" stroke="#2a2a2a" stroke-width="1.3"/>
<text x="170.25" y="189.80" text-anchor="middle" class="tk">0</text>
<line x1="196.34" y1="175.5" x2="196.34" y2="177.50" stroke="#2a2a2a" stroke-width="1.3"/>
<line x1="222.43" y1="175.5" x2="222.43" y2="178.70" stroke="#2a2a2a" stroke-width="1.3"/>
<text x="222.43" y="189.80" text-anchor="middle" class="tk">30</text>
<line x1="248.51" y1="175.5" x2="248.51" y2="177.50" stroke="#2a2a2a" stroke-width="1.3"/>
<line x1="274.60" y1="175.5" x2="274.60" y2="178.70" stroke="#2a2a2a" stroke-width="1.3"/>
<text x="274.60" y="189.80" text-anchor="middle" class="tk">60</text>
<line x1="65.9" y1="175.50" x2="63.90" y2="175.50" stroke="#2a2a2a" stroke-width="1.3"/>
<line x1="65.9" y1="161.47" x2="62.70" y2="161.47" stroke="#2a2a2a" stroke-width="1.3"/>
<line x1="65.9" y1="147.45" x2="63.90" y2="147.45" stroke="#2a2a2a" stroke-width="1.3"/>
<line x1="65.9" y1="133.43" x2="62.70" y2="133.43" stroke="#2a2a2a" stroke-width="1.3"/>
<line x1="65.9" y1="119.40" x2="63.90" y2="119.40" stroke="#2a2a2a" stroke-width="1.3"/>
<line x1="65.9" y1="105.37" x2="62.70" y2="105.37" stroke="#2a2a2a" stroke-width="1.3"/>
<line x1="65.9" y1="91.35" x2="63.90" y2="91.35" stroke="#2a2a2a" stroke-width="1.3"/>
<line x1="65.9" y1="77.32" x2="62.70" y2="77.32" stroke="#2a2a2a" stroke-width="1.3"/>
<line x1="65.9" y1="63.30" x2="63.90" y2="63.30" stroke="#2a2a2a" stroke-width="1.3"/>
<line x1="65.9" y1="49.27" x2="62.70" y2="49.27" stroke="#2a2a2a" stroke-width="1.3"/>
<line x1="65.9" y1="35.25" x2="63.90" y2="35.25" stroke="#2a2a2a" stroke-width="1.3"/>
<line x1="65.9" y1="21.22" x2="62.70" y2="21.22" stroke="#2a2a2a" stroke-width="1.3"/>
<line x1="65.9" y1="7.20" x2="63.90" y2="7.20" stroke="#2a2a2a" stroke-width="1.3"/>
<text x="59.90" y="164.88" text-anchor="end" class="tk">0</text>
<text x="59.90" y="136.83" text-anchor="end" class="tk">1000</text>
<text x="59.90" y="108.77" text-anchor="end" class="tk">2000</text>
<text x="59.90" y="80.72" text-anchor="end" class="tk">3000</text>
<text x="59.90" y="52.67" text-anchor="end" class="tk">4000</text>
<text x="59.90" y="24.62" text-anchor="end" class="tk">5000</text>
<rect x="332.0" y="10.8" width="209.00" height="168.00" fill="none" stroke="#2a2a2a" stroke-width="1.6"/>
<line x1="332.00" y1="178.8" x2="332.00" y2="182.00" stroke="#2a2a2a" stroke-width="1.3"/>
<text x="332.00" y="193.10" text-anchor="middle" class="tk">-60</text>
<line x1="358.12" y1="178.8" x2="358.12" y2="180.80" stroke="#2a2a2a" stroke-width="1.3"/>
<line x1="384.25" y1="178.8" x2="384.25" y2="182.00" stroke="#2a2a2a" stroke-width="1.3"/>
<text x="384.25" y="193.10" text-anchor="middle" class="tk">-30</text>
<line x1="410.38" y1="178.8" x2="410.38" y2="180.80" stroke="#2a2a2a" stroke-width="1.3"/>
<line x1="436.50" y1="178.8" x2="436.50" y2="182.00" stroke="#2a2a2a" stroke-width="1.3"/>
<text x="436.50" y="193.10" text-anchor="middle" class="tk">0</text>
<line x1="462.62" y1="178.8" x2="462.62" y2="180.80" stroke="#2a2a2a" stroke-width="1.3"/>
<line x1="488.75" y1="178.8" x2="488.75" y2="182.00" stroke="#2a2a2a" stroke-width="1.3"/>
<text x="488.75" y="193.10" text-anchor="middle" class="tk">30</text>
<line x1="514.88" y1="178.8" x2="514.88" y2="180.80" stroke="#2a2a2a" stroke-width="1.3"/>
<line x1="541.00" y1="178.8" x2="541.00" y2="182.00" stroke="#2a2a2a" stroke-width="1.3"/>
<text x="541.00" y="193.10" text-anchor="middle" class="tk">60</text>
<line x1="332.0" y1="178.80" x2="330.00" y2="178.80" stroke="#2a2a2a" stroke-width="1.3"/>
<line x1="332.0" y1="167.60" x2="328.80" y2="167.60" stroke="#2a2a2a" stroke-width="1.3"/>
<line x1="332.0" y1="156.40" x2="330.00" y2="156.40" stroke="#2a2a2a" stroke-width="1.3"/>
<line x1="332.0" y1="145.20" x2="328.80" y2="145.20" stroke="#2a2a2a" stroke-width="1.3"/>
<line x1="332.0" y1="134.00" x2="330.00" y2="134.00" stroke="#2a2a2a" stroke-width="1.3"/>
<line x1="332.0" y1="122.80" x2="328.80" y2="122.80" stroke="#2a2a2a" stroke-width="1.3"/>
<line x1="332.0" y1="111.60" x2="330.00" y2="111.60" stroke="#2a2a2a" stroke-width="1.3"/>
<line x1="332.0" y1="100.40" x2="328.80" y2="100.40" stroke="#2a2a2a" stroke-width="1.3"/>
<line x1="332.0" y1="89.20" x2="330.00" y2="89.20" stroke="#2a2a2a" stroke-width="1.3"/>
<line x1="332.0" y1="78.00" x2="328.80" y2="78.00" stroke="#2a2a2a" stroke-width="1.3"/>
<line x1="332.0" y1="66.80" x2="330.00" y2="66.80" stroke="#2a2a2a" stroke-width="1.3"/>
<line x1="332.0" y1="55.60" x2="328.80" y2="55.60" stroke="#2a2a2a" stroke-width="1.3"/>
<line x1="332.0" y1="44.40" x2="330.00" y2="44.40" stroke="#2a2a2a" stroke-width="1.3"/>
<line x1="332.0" y1="33.20" x2="328.80" y2="33.20" stroke="#2a2a2a" stroke-width="1.3"/>
<line x1="332.0" y1="22.00" x2="330.00" y2="22.00" stroke="#2a2a2a" stroke-width="1.3"/>
<line x1="332.0" y1="10.80" x2="328.80" y2="10.80" stroke="#2a2a2a" stroke-width="1.3"/>
<text x="326.00" y="171.00" text-anchor="end" class="tk">0.0</text>
<text x="326.00" y="148.60" text-anchor="end" class="tk">0.1</text>
<text x="326.00" y="126.20" text-anchor="end" class="tk">0.2</text>
<text x="326.00" y="103.80" text-anchor="end" class="tk">0.3</text>
<text x="326.00" y="81.40" text-anchor="end" class="tk">0.4</text>
<text x="326.00" y="59.00" text-anchor="end" class="tk">0.5</text>
<text x="326.00" y="36.60" text-anchor="end" class="tk">0.6</text>
<text x="326.00" y="14.20" text-anchor="end" class="tk">0.7</text>
<rect x="65.9" y="223.2" width="208.80" height="168.30" fill="none" stroke="#2a2a2a" stroke-width="1.6"/>
<line x1="65.90" y1="391.5" x2="65.90" y2="394.70" stroke="#2a2a2a" stroke-width="1.3"/>
<text x="65.90" y="405.80" text-anchor="middle" class="tk">-60</text>
<line x1="92.00" y1="391.5" x2="92.00" y2="393.50" stroke="#2a2a2a" stroke-width="1.3"/>
<line x1="118.10" y1="391.5" x2="118.10" y2="394.70" stroke="#2a2a2a" stroke-width="1.3"/>
<text x="118.10" y="405.80" text-anchor="middle" class="tk">-30</text>
<line x1="144.20" y1="391.5" x2="144.20" y2="393.50" stroke="#2a2a2a" stroke-width="1.3"/>
<line x1="170.30" y1="391.5" x2="170.30" y2="394.70" stroke="#2a2a2a" stroke-width="1.3"/>
<text x="170.30" y="405.80" text-anchor="middle" class="tk">0</text>
<line x1="196.40" y1="391.5" x2="196.40" y2="393.50" stroke="#2a2a2a" stroke-width="1.3"/>
<line x1="222.50" y1="391.5" x2="222.50" y2="394.70" stroke="#2a2a2a" stroke-width="1.3"/>
<text x="222.50" y="405.80" text-anchor="middle" class="tk">30</text>
<line x1="248.60" y1="391.5" x2="248.60" y2="393.50" stroke="#2a2a2a" stroke-width="1.3"/>
<line x1="274.70" y1="391.5" x2="274.70" y2="394.70" stroke="#2a2a2a" stroke-width="1.3"/>
<text x="274.70" y="405.80" text-anchor="middle" class="tk">60</text>
<line x1="65.9" y1="391.50" x2="63.90" y2="391.50" stroke="#2a2a2a" stroke-width="1.3"/>
<line x1="65.9" y1="378.55" x2="62.70" y2="378.55" stroke="#2a2a2a" stroke-width="1.3"/>
<line x1="65.9" y1="365.61" x2="63.90" y2="365.61" stroke="#2a2a2a" stroke-width="1.3"/>
<line x1="65.9" y1="352.66" x2="62.70" y2="352.66" stroke="#2a2a2a" stroke-width="1.3"/>
<line x1="65.9" y1="339.72" x2="63.90" y2="339.72" stroke="#2a2a2a" stroke-width="1.3"/>
<line x1="65.9" y1="326.77" x2="62.70" y2="326.77" stroke="#2a2a2a" stroke-width="1.3"/>
<line x1="65.9" y1="313.82" x2="63.90" y2="313.82" stroke="#2a2a2a" stroke-width="1.3"/>
<line x1="65.9" y1="300.88" x2="62.70" y2="300.88" stroke="#2a2a2a" stroke-width="1.3"/>
<line x1="65.9" y1="287.93" x2="63.90" y2="287.93" stroke="#2a2a2a" stroke-width="1.3"/>
<line x1="65.9" y1="274.98" x2="62.70" y2="274.98" stroke="#2a2a2a" stroke-width="1.3"/>
<line x1="65.9" y1="262.04" x2="63.90" y2="262.04" stroke="#2a2a2a" stroke-width="1.3"/>
<line x1="65.9" y1="249.09" x2="62.70" y2="249.09" stroke="#2a2a2a" stroke-width="1.3"/>
<line x1="65.9" y1="236.15" x2="63.90" y2="236.15" stroke="#2a2a2a" stroke-width="1.3"/>
<line x1="65.9" y1="223.20" x2="62.70" y2="223.20" stroke="#2a2a2a" stroke-width="1.3"/>
<text x="59.90" y="381.95" text-anchor="end" class="tk">0</text>
<text x="59.90" y="356.06" text-anchor="end" class="tk">1000</text>
<text x="59.90" y="330.17" text-anchor="end" class="tk">2000</text>
<text x="59.90" y="304.28" text-anchor="end" class="tk">3000</text>
<text x="59.90" y="278.38" text-anchor="end" class="tk">4000</text>
<text x="59.90" y="252.49" text-anchor="end" class="tk">5000</text>
<text x="59.90" y="226.60" text-anchor="end" class="tk">6000</text>
<rect x="332.2" y="223.0" width="208.80" height="168.50" fill="none" stroke="#2a2a2a" stroke-width="1.6"/>
<line x1="332.20" y1="391.5" x2="332.20" y2="394.70" stroke="#2a2a2a" stroke-width="1.3"/>
<text x="332.20" y="405.80" text-anchor="middle" class="tk">-60</text>
<line x1="358.30" y1="391.5" x2="358.30" y2="393.50" stroke="#2a2a2a" stroke-width="1.3"/>
<line x1="384.40" y1="391.5" x2="384.40" y2="394.70" stroke="#2a2a2a" stroke-width="1.3"/>
<text x="384.40" y="405.80" text-anchor="middle" class="tk">-30</text>
<line x1="410.50" y1="391.5" x2="410.50" y2="393.50" stroke="#2a2a2a" stroke-width="1.3"/>
<line x1="436.60" y1="391.5" x2="436.60" y2="394.70" stroke="#2a2a2a" stroke-width="1.3"/>
<text x="436.60" y="405.80" text-anchor="middle" class="tk">0</text>
<line x1="462.70" y1="391.5" x2="462.70" y2="393.50" stroke="#2a2a2a" stroke-width="1.3"/>
<line x1="488.80" y1="391.5" x2="488.80" y2="394.70" stroke="#2a2a2a" stroke-width="1.3"/>
<text x="488.80" y="405.80" text-anchor="middle" class="tk">30</text>
<line x1="514.90" y1="391.5" x2="514.90" y2="393.50" stroke="#2a2a2a" stroke-width="1.3"/>
<line x1="541.00" y1="391.5" x2="541.00" y2="394.70" stroke="#2a2a2a" stroke-width="1.3"/>
<text x="541.00" y="405.80" text-anchor="middle" class="tk">60</text>
<line x1="332.2" y1="391.50" x2="329.00" y2="391.50" stroke="#2a2a2a" stroke-width="1.3"/>
<line x1="332.2" y1="377.46" x2="330.20" y2="377.46" stroke="#2a2a2a" stroke-width="1.3"/>
<line x1="332.2" y1="363.42" x2="329.00" y2="363.42" stroke="#2a2a2a" stroke-width="1.3"/>
<line x1="332.2" y1="349.38" x2="330.20" y2="349.38" stroke="#2a2a2a" stroke-width="1.3"/>
<line x1="332.2" y1="335.33" x2="329.00" y2="335.33" stroke="#2a2a2a" stroke-width="1.3"/>
<line x1="332.2" y1="321.29" x2="330.20" y2="321.29" stroke="#2a2a2a" stroke-width="1.3"/>
<line x1="332.2" y1="307.25" x2="329.00" y2="307.25" stroke="#2a2a2a" stroke-width="1.3"/>
<line x1="332.2" y1="293.21" x2="330.20" y2="293.21" stroke="#2a2a2a" stroke-width="1.3"/>
<line x1="332.2" y1="279.17" x2="329.00" y2="279.17" stroke="#2a2a2a" stroke-width="1.3"/>
<line x1="332.2" y1="265.12" x2="330.20" y2="265.12" stroke="#2a2a2a" stroke-width="1.3"/>
<line x1="332.2" y1="251.08" x2="329.00" y2="251.08" stroke="#2a2a2a" stroke-width="1.3"/>
<line x1="332.2" y1="237.04" x2="330.20" y2="237.04" stroke="#2a2a2a" stroke-width="1.3"/>
<line x1="332.2" y1="223.00" x2="329.00" y2="223.00" stroke="#2a2a2a" stroke-width="1.3"/>
<text x="326.20" y="394.90" text-anchor="end" class="tk">0.0</text>
<text x="326.20" y="366.82" text-anchor="end" class="tk">0.1</text>
<text x="326.20" y="338.73" text-anchor="end" class="tk">0.2</text>
<text x="326.20" y="310.65" text-anchor="end" class="tk">0.3</text>
<text x="326.20" y="282.57" text-anchor="end" class="tk">0.4</text>
<text x="326.20" y="254.48" text-anchor="end" class="tk">0.5</text>
<text x="326.20" y="226.40" text-anchor="end" class="tk">0.6</text>
<line x1="201.2" y1="13.80" x2="225.2" y2="13.80" stroke="#383838" stroke-width="1.8"/>
<text x="228.0" y="17.60" class="lg">HNBR</text>
<line x1="201.2" y1="26.70" x2="225.2" y2="26.70" stroke="#fb2a30" stroke-width="1.8"/>
<text x="228.0" y="30.50" class="lg">HNBR−3</text>
<line x1="201.2" y1="39.60" x2="225.2" y2="39.60" stroke="#1c68e6" stroke-width="1.8"/>
<text x="228.0" y="43.40" class="lg">HNBR−5</text>
<line x1="201.2" y1="52.50" x2="225.2" y2="52.50" stroke="#18b070" stroke-width="1.8"/>
<text x="228.0" y="56.30" class="lg">HNBR−7</text>
<line x1="201.2" y1="65.40" x2="225.2" y2="65.40" stroke="#c67ae8" stroke-width="1.8"/>
<text x="228.0" y="69.20" class="lg">HNBR−9</text>
<line x1="201.2" y1="78.30" x2="225.2" y2="78.30" stroke="#e4a11c" stroke-width="1.8"/>
<text x="228.0" y="82.10" class="lg">HNBR−11</text>
<line x1="332.8" y1="17.00" x2="356.6" y2="17.00" stroke="#383838" stroke-width="1.8"/>
<text x="359.6" y="20.80" class="lg">HNBR</text>
<line x1="332.8" y1="30.05" x2="356.6" y2="30.05" stroke="#fb2a30" stroke-width="1.8"/>
<text x="359.6" y="33.85" class="lg">HNBR−3</text>
<line x1="332.8" y1="43.10" x2="356.6" y2="43.10" stroke="#1c68e6" stroke-width="1.8"/>
<text x="359.6" y="46.90" class="lg">HNBR−5</text>
<line x1="332.8" y1="56.15" x2="356.6" y2="56.15" stroke="#18b070" stroke-width="1.8"/>
<text x="359.6" y="59.95" class="lg">HNBR−7</text>
<line x1="332.8" y1="69.20" x2="356.6" y2="69.20" stroke="#c67ae8" stroke-width="1.8"/>
<text x="359.6" y="73.00" class="lg">HNBR−9</text>
<line x1="332.8" y1="82.25" x2="356.6" y2="82.25" stroke="#e4a11c" stroke-width="1.8"/>
<text x="359.6" y="86.05" class="lg">HNBR−11</text>
<line x1="195.3" y1="229.40" x2="219.7" y2="229.40" stroke="#383838" stroke-width="1.8"/>
<text x="222.2" y="233.20" class="lg">HNBR−7</text>
<line x1="195.3" y1="242.40" x2="219.7" y2="242.40" stroke="#fb2a30" stroke-width="1.8"/>
<text x="222.2" y="246.20" class="lg">HNBR−7−3</text>
<line x1="195.3" y1="255.40" x2="219.7" y2="255.40" stroke="#1c68e6" stroke-width="1.8"/>
<text x="222.2" y="259.20" class="lg">HNBR−7−5</text>
<line x1="195.3" y1="268.40" x2="219.7" y2="268.40" stroke="#18b070" stroke-width="1.8"/>
<text x="222.2" y="272.20" class="lg">HNBR−7−7</text>
<line x1="195.3" y1="281.40" x2="219.7" y2="281.40" stroke="#c67ae8" stroke-width="1.8"/>
<text x="222.2" y="285.20" class="lg">HNBR−7−9</text>
<line x1="332.6" y1="230.10" x2="356.5" y2="230.10" stroke="#383838" stroke-width="1.8"/>
<text x="359.5" y="233.90" class="lg">HNBR−7</text>
<line x1="332.6" y1="243.00" x2="356.5" y2="243.00" stroke="#fb2a30" stroke-width="1.8"/>
<text x="359.5" y="246.80" class="lg">HNBR−7−3</text>
<line x1="332.6" y1="255.90" x2="356.5" y2="255.90" stroke="#1c68e6" stroke-width="1.8"/>
<text x="359.5" y="259.70" class="lg">HNBR−7−5</text>
<line x1="332.6" y1="268.80" x2="356.5" y2="268.80" stroke="#18b070" stroke-width="1.8"/>
<text x="359.5" y="272.60" class="lg">HNBR−7−7</text>
<line x1="332.6" y1="281.70" x2="356.5" y2="281.70" stroke="#c67ae8" stroke-width="1.8"/>
<text x="359.5" y="285.50" class="lg">HNBR−7−9</text>
<text x="170.85" y="204.8" text-anchor="middle" class="ti"><tspan letter-spacing="0.15">Temperature</tspan><tspan class="tr">(°C)</tspan></text>
<text x="437.10" y="208.4" text-anchor="middle" class="ti"><tspan letter-spacing="0.15">Temperature</tspan><tspan class="tr">(°C)</tspan></text>
<text x="170.90" y="420.5" text-anchor="middle" class="ti"><tspan letter-spacing="0.15">Temperature</tspan><tspan class="tr">(°C)</tspan></text>
<text x="437.20" y="420.5" text-anchor="middle" class="ti"><tspan letter-spacing="0.15">Temperature</tspan><tspan class="tr">(°C)</tspan></text>
<text transform="translate(35.6,91.0) rotate(-90)" x="0" y="0" text-anchor="middle" class="ti">E′(GPa)</text>
<text transform="translate(309.5,94.1) rotate(-90)" x="0" y="0" text-anchor="middle" class="ti">Tanδ</text>
<text transform="translate(35.7,307.2) rotate(-90)" x="0" y="0" text-anchor="middle" class="ti">E′(GPa)</text>
<text transform="translate(309.5,307.2) rotate(-90)" x="0" y="0" text-anchor="middle" class="ti">Tanδ</text>
<text x="2.6" y="21.9" class="pl">(a1)</text>
<text x="278.9" y="21.8" class="pl">(a2)</text>
<text x="2.8" y="238.2" class="pl">(b1)</text>
<text x="278.9" y="238.2" class="pl">(b2)</text>
</svg>
</body></html>
